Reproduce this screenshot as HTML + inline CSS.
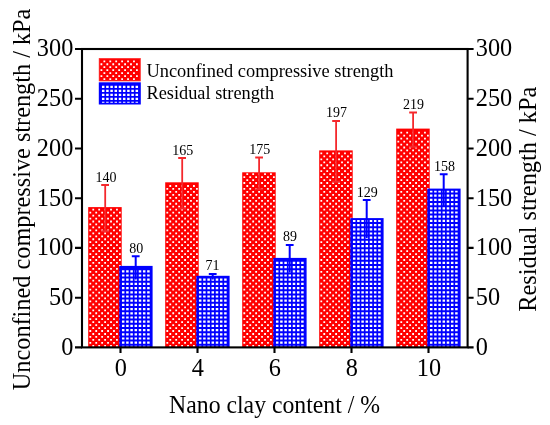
<!DOCTYPE html>
<html lang="en"><head><meta charset="utf-8"><title>Nano clay content chart</title>
<style>html,body{margin:0;padding:0;background:#fff}svg{display:block}text{font-family:"Liberation Serif",serif;fill:#000}</style></head><body>
<svg width="550" height="425" viewBox="0 0 550 425">
<rect width="550" height="425" fill="#fff"/>
<rect x="88.2" y="207.1" width="33.5" height="140.3" fill="#ff0000"/>
<path fill="#fff" d="M92.36 208.76h1.8v1.8h-1.8zM98.28 208.76h1.8v1.8h-1.8zM104.2 208.76h1.8v1.8h-1.8zM110.12 208.76h1.8v1.8h-1.8zM116.04 208.76h1.8v1.8h-1.8zM89.4 211.72h1.8v1.8h-1.8zM95.32 211.72h1.8v1.8h-1.8zM101.24 211.72h1.8v1.8h-1.8zM107.16 211.72h1.8v1.8h-1.8zM113.08 211.72h1.8v1.8h-1.8zM119 211.72h1.8v1.8h-1.8zM92.36 214.68h1.8v1.8h-1.8zM98.28 214.68h1.8v1.8h-1.8zM104.2 214.68h1.8v1.8h-1.8zM110.12 214.68h1.8v1.8h-1.8zM116.04 214.68h1.8v1.8h-1.8zM89.4 217.64h1.8v1.8h-1.8zM95.32 217.64h1.8v1.8h-1.8zM101.24 217.64h1.8v1.8h-1.8zM107.16 217.64h1.8v1.8h-1.8zM113.08 217.64h1.8v1.8h-1.8zM119 217.64h1.8v1.8h-1.8zM92.36 220.6h1.8v1.8h-1.8zM98.28 220.6h1.8v1.8h-1.8zM104.2 220.6h1.8v1.8h-1.8zM110.12 220.6h1.8v1.8h-1.8zM116.04 220.6h1.8v1.8h-1.8zM89.4 223.56h1.8v1.8h-1.8zM95.32 223.56h1.8v1.8h-1.8zM101.24 223.56h1.8v1.8h-1.8zM107.16 223.56h1.8v1.8h-1.8zM113.08 223.56h1.8v1.8h-1.8zM119 223.56h1.8v1.8h-1.8zM92.36 226.52h1.8v1.8h-1.8zM98.28 226.52h1.8v1.8h-1.8zM104.2 226.52h1.8v1.8h-1.8zM110.12 226.52h1.8v1.8h-1.8zM116.04 226.52h1.8v1.8h-1.8zM89.4 229.48h1.8v1.8h-1.8zM95.32 229.48h1.8v1.8h-1.8zM101.24 229.48h1.8v1.8h-1.8zM107.16 229.48h1.8v1.8h-1.8zM113.08 229.48h1.8v1.8h-1.8zM119 229.48h1.8v1.8h-1.8zM92.36 232.44h1.8v1.8h-1.8zM98.28 232.44h1.8v1.8h-1.8zM104.2 232.44h1.8v1.8h-1.8zM110.12 232.44h1.8v1.8h-1.8zM116.04 232.44h1.8v1.8h-1.8zM89.4 235.4h1.8v1.8h-1.8zM95.32 235.4h1.8v1.8h-1.8zM101.24 235.4h1.8v1.8h-1.8zM107.16 235.4h1.8v1.8h-1.8zM113.08 235.4h1.8v1.8h-1.8zM119 235.4h1.8v1.8h-1.8zM92.36 238.36h1.8v1.8h-1.8zM98.28 238.36h1.8v1.8h-1.8zM104.2 238.36h1.8v1.8h-1.8zM110.12 238.36h1.8v1.8h-1.8zM116.04 238.36h1.8v1.8h-1.8zM89.4 241.32h1.8v1.8h-1.8zM95.32 241.32h1.8v1.8h-1.8zM101.24 241.32h1.8v1.8h-1.8zM107.16 241.32h1.8v1.8h-1.8zM113.08 241.32h1.8v1.8h-1.8zM119 241.32h1.8v1.8h-1.8zM92.36 244.28h1.8v1.8h-1.8zM98.28 244.28h1.8v1.8h-1.8zM104.2 244.28h1.8v1.8h-1.8zM110.12 244.28h1.8v1.8h-1.8zM116.04 244.28h1.8v1.8h-1.8zM89.4 247.24h1.8v1.8h-1.8zM95.32 247.24h1.8v1.8h-1.8zM101.24 247.24h1.8v1.8h-1.8zM107.16 247.24h1.8v1.8h-1.8zM113.08 247.24h1.8v1.8h-1.8zM119 247.24h1.8v1.8h-1.8zM92.36 250.2h1.8v1.8h-1.8zM98.28 250.2h1.8v1.8h-1.8zM104.2 250.2h1.8v1.8h-1.8zM110.12 250.2h1.8v1.8h-1.8zM116.04 250.2h1.8v1.8h-1.8zM89.4 253.16h1.8v1.8h-1.8zM95.32 253.16h1.8v1.8h-1.8zM101.24 253.16h1.8v1.8h-1.8zM107.16 253.16h1.8v1.8h-1.8zM113.08 253.16h1.8v1.8h-1.8zM119 253.16h1.8v1.8h-1.8zM92.36 256.12h1.8v1.8h-1.8zM98.28 256.12h1.8v1.8h-1.8zM104.2 256.12h1.8v1.8h-1.8zM110.12 256.12h1.8v1.8h-1.8zM116.04 256.12h1.8v1.8h-1.8zM89.4 259.08h1.8v1.8h-1.8zM95.32 259.08h1.8v1.8h-1.8zM101.24 259.08h1.8v1.8h-1.8zM107.16 259.08h1.8v1.8h-1.8zM113.08 259.08h1.8v1.8h-1.8zM119 259.08h1.8v1.8h-1.8zM92.36 262.04h1.8v1.8h-1.8zM98.28 262.04h1.8v1.8h-1.8zM104.2 262.04h1.8v1.8h-1.8zM110.12 262.04h1.8v1.8h-1.8zM116.04 262.04h1.8v1.8h-1.8zM89.4 265h1.8v1.8h-1.8zM95.32 265h1.8v1.8h-1.8zM101.24 265h1.8v1.8h-1.8zM107.16 265h1.8v1.8h-1.8zM113.08 265h1.8v1.8h-1.8zM119 265h1.8v1.8h-1.8zM92.36 267.96h1.8v1.8h-1.8zM98.28 267.96h1.8v1.8h-1.8zM104.2 267.96h1.8v1.8h-1.8zM110.12 267.96h1.8v1.8h-1.8zM116.04 267.96h1.8v1.8h-1.8zM89.4 270.92h1.8v1.8h-1.8zM95.32 270.92h1.8v1.8h-1.8zM101.24 270.92h1.8v1.8h-1.8zM107.16 270.92h1.8v1.8h-1.8zM113.08 270.92h1.8v1.8h-1.8zM119 270.92h1.8v1.8h-1.8zM92.36 273.88h1.8v1.8h-1.8zM98.28 273.88h1.8v1.8h-1.8zM104.2 273.88h1.8v1.8h-1.8zM110.12 273.88h1.8v1.8h-1.8zM116.04 273.88h1.8v1.8h-1.8zM89.4 276.84h1.8v1.8h-1.8zM95.32 276.84h1.8v1.8h-1.8zM101.24 276.84h1.8v1.8h-1.8zM107.16 276.84h1.8v1.8h-1.8zM113.08 276.84h1.8v1.8h-1.8zM119 276.84h1.8v1.8h-1.8zM92.36 279.8h1.8v1.8h-1.8zM98.28 279.8h1.8v1.8h-1.8zM104.2 279.8h1.8v1.8h-1.8zM110.12 279.8h1.8v1.8h-1.8zM116.04 279.8h1.8v1.8h-1.8zM89.4 282.76h1.8v1.8h-1.8zM95.32 282.76h1.8v1.8h-1.8zM101.24 282.76h1.8v1.8h-1.8zM107.16 282.76h1.8v1.8h-1.8zM113.08 282.76h1.8v1.8h-1.8zM119 282.76h1.8v1.8h-1.8zM92.36 285.72h1.8v1.8h-1.8zM98.28 285.72h1.8v1.8h-1.8zM104.2 285.72h1.8v1.8h-1.8zM110.12 285.72h1.8v1.8h-1.8zM116.04 285.72h1.8v1.8h-1.8zM89.4 288.68h1.8v1.8h-1.8zM95.32 288.68h1.8v1.8h-1.8zM101.24 288.68h1.8v1.8h-1.8zM107.16 288.68h1.8v1.8h-1.8zM113.08 288.68h1.8v1.8h-1.8zM119 288.68h1.8v1.8h-1.8zM92.36 291.64h1.8v1.8h-1.8zM98.28 291.64h1.8v1.8h-1.8zM104.2 291.64h1.8v1.8h-1.8zM110.12 291.64h1.8v1.8h-1.8zM116.04 291.64h1.8v1.8h-1.8zM89.4 294.6h1.8v1.8h-1.8zM95.32 294.6h1.8v1.8h-1.8zM101.24 294.6h1.8v1.8h-1.8zM107.16 294.6h1.8v1.8h-1.8zM113.08 294.6h1.8v1.8h-1.8zM119 294.6h1.8v1.8h-1.8zM92.36 297.56h1.8v1.8h-1.8zM98.28 297.56h1.8v1.8h-1.8zM104.2 297.56h1.8v1.8h-1.8zM110.12 297.56h1.8v1.8h-1.8zM116.04 297.56h1.8v1.8h-1.8zM89.4 300.52h1.8v1.8h-1.8zM95.32 300.52h1.8v1.8h-1.8zM101.24 300.52h1.8v1.8h-1.8zM107.16 300.52h1.8v1.8h-1.8zM113.08 300.52h1.8v1.8h-1.8zM119 300.52h1.8v1.8h-1.8zM92.36 303.48h1.8v1.8h-1.8zM98.28 303.48h1.8v1.8h-1.8zM104.2 303.48h1.8v1.8h-1.8zM110.12 303.48h1.8v1.8h-1.8zM116.04 303.48h1.8v1.8h-1.8zM89.4 306.44h1.8v1.8h-1.8zM95.32 306.44h1.8v1.8h-1.8zM101.24 306.44h1.8v1.8h-1.8zM107.16 306.44h1.8v1.8h-1.8zM113.08 306.44h1.8v1.8h-1.8zM119 306.44h1.8v1.8h-1.8zM92.36 309.4h1.8v1.8h-1.8zM98.28 309.4h1.8v1.8h-1.8zM104.2 309.4h1.8v1.8h-1.8zM110.12 309.4h1.8v1.8h-1.8zM116.04 309.4h1.8v1.8h-1.8zM89.4 312.36h1.8v1.8h-1.8zM95.32 312.36h1.8v1.8h-1.8zM101.24 312.36h1.8v1.8h-1.8zM107.16 312.36h1.8v1.8h-1.8zM113.08 312.36h1.8v1.8h-1.8zM119 312.36h1.8v1.8h-1.8zM92.36 315.32h1.8v1.8h-1.8zM98.28 315.32h1.8v1.8h-1.8zM104.2 315.32h1.8v1.8h-1.8zM110.12 315.32h1.8v1.8h-1.8zM116.04 315.32h1.8v1.8h-1.8zM89.4 318.28h1.8v1.8h-1.8zM95.32 318.28h1.8v1.8h-1.8zM101.24 318.28h1.8v1.8h-1.8zM107.16 318.28h1.8v1.8h-1.8zM113.08 318.28h1.8v1.8h-1.8zM119 318.28h1.8v1.8h-1.8zM92.36 321.24h1.8v1.8h-1.8zM98.28 321.24h1.8v1.8h-1.8zM104.2 321.24h1.8v1.8h-1.8zM110.12 321.24h1.8v1.8h-1.8zM116.04 321.24h1.8v1.8h-1.8zM89.4 324.2h1.8v1.8h-1.8zM95.32 324.2h1.8v1.8h-1.8zM101.24 324.2h1.8v1.8h-1.8zM107.16 324.2h1.8v1.8h-1.8zM113.08 324.2h1.8v1.8h-1.8zM119 324.2h1.8v1.8h-1.8zM92.36 327.16h1.8v1.8h-1.8zM98.28 327.16h1.8v1.8h-1.8zM104.2 327.16h1.8v1.8h-1.8zM110.12 327.16h1.8v1.8h-1.8zM116.04 327.16h1.8v1.8h-1.8zM89.4 330.12h1.8v1.8h-1.8zM95.32 330.12h1.8v1.8h-1.8zM101.24 330.12h1.8v1.8h-1.8zM107.16 330.12h1.8v1.8h-1.8zM113.08 330.12h1.8v1.8h-1.8zM119 330.12h1.8v1.8h-1.8zM92.36 333.08h1.8v1.8h-1.8zM98.28 333.08h1.8v1.8h-1.8zM104.2 333.08h1.8v1.8h-1.8zM110.12 333.08h1.8v1.8h-1.8zM116.04 333.08h1.8v1.8h-1.8zM89.4 336.04h1.8v1.8h-1.8zM95.32 336.04h1.8v1.8h-1.8zM101.24 336.04h1.8v1.8h-1.8zM107.16 336.04h1.8v1.8h-1.8zM113.08 336.04h1.8v1.8h-1.8zM119 336.04h1.8v1.8h-1.8zM92.36 339h1.8v1.8h-1.8zM98.28 339h1.8v1.8h-1.8zM104.2 339h1.8v1.8h-1.8zM110.12 339h1.8v1.8h-1.8zM116.04 339h1.8v1.8h-1.8zM89.4 341.96h1.8v1.8h-1.8zM95.32 341.96h1.8v1.8h-1.8zM101.24 341.96h1.8v1.8h-1.8zM107.16 341.96h1.8v1.8h-1.8zM113.08 341.96h1.8v1.8h-1.8zM119 341.96h1.8v1.8h-1.8zM92.36 344.92h1.8v1.8h-1.8zM98.28 344.92h1.8v1.8h-1.8zM104.2 344.92h1.8v1.8h-1.8zM110.12 344.92h1.8v1.8h-1.8zM116.04 344.92h1.8v1.8h-1.8z"/>
<path d="M105.2 231.3V185.0" stroke="#f4282c" stroke-width="1.8" fill="none"/>
<path d="M101.2 185.0h7.8M101.2 231.3h7.8" stroke="#f4282c" stroke-width="2" fill="none"/>
<text x="106.0" y="182.3" font-size="15" text-anchor="middle" textLength="21" lengthAdjust="spacingAndGlyphs">140</text>
<rect x="165.2" y="182.3" width="33.5" height="165.1" fill="#ff0000"/>
<path fill="#fff" d="M169.36 185.08h1.8v1.8h-1.8zM175.28 185.08h1.8v1.8h-1.8zM181.2 185.08h1.8v1.8h-1.8zM187.12 185.08h1.8v1.8h-1.8zM193.04 185.08h1.8v1.8h-1.8zM166.4 188.04h1.8v1.8h-1.8zM172.32 188.04h1.8v1.8h-1.8zM178.24 188.04h1.8v1.8h-1.8zM184.16 188.04h1.8v1.8h-1.8zM190.08 188.04h1.8v1.8h-1.8zM196 188.04h1.8v1.8h-1.8zM169.36 191h1.8v1.8h-1.8zM175.28 191h1.8v1.8h-1.8zM181.2 191h1.8v1.8h-1.8zM187.12 191h1.8v1.8h-1.8zM193.04 191h1.8v1.8h-1.8zM166.4 193.96h1.8v1.8h-1.8zM172.32 193.96h1.8v1.8h-1.8zM178.24 193.96h1.8v1.8h-1.8zM184.16 193.96h1.8v1.8h-1.8zM190.08 193.96h1.8v1.8h-1.8zM196 193.96h1.8v1.8h-1.8zM169.36 196.92h1.8v1.8h-1.8zM175.28 196.92h1.8v1.8h-1.8zM181.2 196.92h1.8v1.8h-1.8zM187.12 196.92h1.8v1.8h-1.8zM193.04 196.92h1.8v1.8h-1.8zM166.4 199.88h1.8v1.8h-1.8zM172.32 199.88h1.8v1.8h-1.8zM178.24 199.88h1.8v1.8h-1.8zM184.16 199.88h1.8v1.8h-1.8zM190.08 199.88h1.8v1.8h-1.8zM196 199.88h1.8v1.8h-1.8zM169.36 202.84h1.8v1.8h-1.8zM175.28 202.84h1.8v1.8h-1.8zM181.2 202.84h1.8v1.8h-1.8zM187.12 202.84h1.8v1.8h-1.8zM193.04 202.84h1.8v1.8h-1.8zM166.4 205.8h1.8v1.8h-1.8zM172.32 205.8h1.8v1.8h-1.8zM178.24 205.8h1.8v1.8h-1.8zM184.16 205.8h1.8v1.8h-1.8zM190.08 205.8h1.8v1.8h-1.8zM196 205.8h1.8v1.8h-1.8zM169.36 208.76h1.8v1.8h-1.8zM175.28 208.76h1.8v1.8h-1.8zM181.2 208.76h1.8v1.8h-1.8zM187.12 208.76h1.8v1.8h-1.8zM193.04 208.76h1.8v1.8h-1.8zM166.4 211.72h1.8v1.8h-1.8zM172.32 211.72h1.8v1.8h-1.8zM178.24 211.72h1.8v1.8h-1.8zM184.16 211.72h1.8v1.8h-1.8zM190.08 211.72h1.8v1.8h-1.8zM196 211.72h1.8v1.8h-1.8zM169.36 214.68h1.8v1.8h-1.8zM175.28 214.68h1.8v1.8h-1.8zM181.2 214.68h1.8v1.8h-1.8zM187.12 214.68h1.8v1.8h-1.8zM193.04 214.68h1.8v1.8h-1.8zM166.4 217.64h1.8v1.8h-1.8zM172.32 217.64h1.8v1.8h-1.8zM178.24 217.64h1.8v1.8h-1.8zM184.16 217.64h1.8v1.8h-1.8zM190.08 217.64h1.8v1.8h-1.8zM196 217.64h1.8v1.8h-1.8zM169.36 220.6h1.8v1.8h-1.8zM175.28 220.6h1.8v1.8h-1.8zM181.2 220.6h1.8v1.8h-1.8zM187.12 220.6h1.8v1.8h-1.8zM193.04 220.6h1.8v1.8h-1.8zM166.4 223.56h1.8v1.8h-1.8zM172.32 223.56h1.8v1.8h-1.8zM178.24 223.56h1.8v1.8h-1.8zM184.16 223.56h1.8v1.8h-1.8zM190.08 223.56h1.8v1.8h-1.8zM196 223.56h1.8v1.8h-1.8zM169.36 226.52h1.8v1.8h-1.8zM175.28 226.52h1.8v1.8h-1.8zM181.2 226.52h1.8v1.8h-1.8zM187.12 226.52h1.8v1.8h-1.8zM193.04 226.52h1.8v1.8h-1.8zM166.4 229.48h1.8v1.8h-1.8zM172.32 229.48h1.8v1.8h-1.8zM178.24 229.48h1.8v1.8h-1.8zM184.16 229.48h1.8v1.8h-1.8zM190.08 229.48h1.8v1.8h-1.8zM196 229.48h1.8v1.8h-1.8zM169.36 232.44h1.8v1.8h-1.8zM175.28 232.44h1.8v1.8h-1.8zM181.2 232.44h1.8v1.8h-1.8zM187.12 232.44h1.8v1.8h-1.8zM193.04 232.44h1.8v1.8h-1.8zM166.4 235.4h1.8v1.8h-1.8zM172.32 235.4h1.8v1.8h-1.8zM178.24 235.4h1.8v1.8h-1.8zM184.16 235.4h1.8v1.8h-1.8zM190.08 235.4h1.8v1.8h-1.8zM196 235.4h1.8v1.8h-1.8zM169.36 238.36h1.8v1.8h-1.8zM175.28 238.36h1.8v1.8h-1.8zM181.2 238.36h1.8v1.8h-1.8zM187.12 238.36h1.8v1.8h-1.8zM193.04 238.36h1.8v1.8h-1.8zM166.4 241.32h1.8v1.8h-1.8zM172.32 241.32h1.8v1.8h-1.8zM178.24 241.32h1.8v1.8h-1.8zM184.16 241.32h1.8v1.8h-1.8zM190.08 241.32h1.8v1.8h-1.8zM196 241.32h1.8v1.8h-1.8zM169.36 244.28h1.8v1.8h-1.8zM175.28 244.28h1.8v1.8h-1.8zM181.2 244.28h1.8v1.8h-1.8zM187.12 244.28h1.8v1.8h-1.8zM193.04 244.28h1.8v1.8h-1.8zM166.4 247.24h1.8v1.8h-1.8zM172.32 247.24h1.8v1.8h-1.8zM178.24 247.24h1.8v1.8h-1.8zM184.16 247.24h1.8v1.8h-1.8zM190.08 247.24h1.8v1.8h-1.8zM196 247.24h1.8v1.8h-1.8zM169.36 250.2h1.8v1.8h-1.8zM175.28 250.2h1.8v1.8h-1.8zM181.2 250.2h1.8v1.8h-1.8zM187.12 250.2h1.8v1.8h-1.8zM193.04 250.2h1.8v1.8h-1.8zM166.4 253.16h1.8v1.8h-1.8zM172.32 253.16h1.8v1.8h-1.8zM178.24 253.16h1.8v1.8h-1.8zM184.16 253.16h1.8v1.8h-1.8zM190.08 253.16h1.8v1.8h-1.8zM196 253.16h1.8v1.8h-1.8zM169.36 256.12h1.8v1.8h-1.8zM175.28 256.12h1.8v1.8h-1.8zM181.2 256.12h1.8v1.8h-1.8zM187.12 256.12h1.8v1.8h-1.8zM193.04 256.12h1.8v1.8h-1.8zM166.4 259.08h1.8v1.8h-1.8zM172.32 259.08h1.8v1.8h-1.8zM178.24 259.08h1.8v1.8h-1.8zM184.16 259.08h1.8v1.8h-1.8zM190.08 259.08h1.8v1.8h-1.8zM196 259.08h1.8v1.8h-1.8zM169.36 262.04h1.8v1.8h-1.8zM175.28 262.04h1.8v1.8h-1.8zM181.2 262.04h1.8v1.8h-1.8zM187.12 262.04h1.8v1.8h-1.8zM193.04 262.04h1.8v1.8h-1.8zM166.4 265h1.8v1.8h-1.8zM172.32 265h1.8v1.8h-1.8zM178.24 265h1.8v1.8h-1.8zM184.16 265h1.8v1.8h-1.8zM190.08 265h1.8v1.8h-1.8zM196 265h1.8v1.8h-1.8zM169.36 267.96h1.8v1.8h-1.8zM175.28 267.96h1.8v1.8h-1.8zM181.2 267.96h1.8v1.8h-1.8zM187.12 267.96h1.8v1.8h-1.8zM193.04 267.96h1.8v1.8h-1.8zM166.4 270.92h1.8v1.8h-1.8zM172.32 270.92h1.8v1.8h-1.8zM178.24 270.92h1.8v1.8h-1.8zM184.16 270.92h1.8v1.8h-1.8zM190.08 270.92h1.8v1.8h-1.8zM196 270.92h1.8v1.8h-1.8zM169.36 273.88h1.8v1.8h-1.8zM175.28 273.88h1.8v1.8h-1.8zM181.2 273.88h1.8v1.8h-1.8zM187.12 273.88h1.8v1.8h-1.8zM193.04 273.88h1.8v1.8h-1.8zM166.4 276.84h1.8v1.8h-1.8zM172.32 276.84h1.8v1.8h-1.8zM178.24 276.84h1.8v1.8h-1.8zM184.16 276.84h1.8v1.8h-1.8zM190.08 276.84h1.8v1.8h-1.8zM196 276.84h1.8v1.8h-1.8zM169.36 279.8h1.8v1.8h-1.8zM175.28 279.8h1.8v1.8h-1.8zM181.2 279.8h1.8v1.8h-1.8zM187.12 279.8h1.8v1.8h-1.8zM193.04 279.8h1.8v1.8h-1.8zM166.4 282.76h1.8v1.8h-1.8zM172.32 282.76h1.8v1.8h-1.8zM178.24 282.76h1.8v1.8h-1.8zM184.16 282.76h1.8v1.8h-1.8zM190.08 282.76h1.8v1.8h-1.8zM196 282.76h1.8v1.8h-1.8zM169.36 285.72h1.8v1.8h-1.8zM175.28 285.72h1.8v1.8h-1.8zM181.2 285.72h1.8v1.8h-1.8zM187.12 285.72h1.8v1.8h-1.8zM193.04 285.72h1.8v1.8h-1.8zM166.4 288.68h1.8v1.8h-1.8zM172.32 288.68h1.8v1.8h-1.8zM178.24 288.68h1.8v1.8h-1.8zM184.16 288.68h1.8v1.8h-1.8zM190.08 288.68h1.8v1.8h-1.8zM196 288.68h1.8v1.8h-1.8zM169.36 291.64h1.8v1.8h-1.8zM175.28 291.64h1.8v1.8h-1.8zM181.2 291.64h1.8v1.8h-1.8zM187.12 291.64h1.8v1.8h-1.8zM193.04 291.64h1.8v1.8h-1.8zM166.4 294.6h1.8v1.8h-1.8zM172.32 294.6h1.8v1.8h-1.8zM178.24 294.6h1.8v1.8h-1.8zM184.16 294.6h1.8v1.8h-1.8zM190.08 294.6h1.8v1.8h-1.8zM196 294.6h1.8v1.8h-1.8zM169.36 297.56h1.8v1.8h-1.8zM175.28 297.56h1.8v1.8h-1.8zM181.2 297.56h1.8v1.8h-1.8zM187.12 297.56h1.8v1.8h-1.8zM193.04 297.56h1.8v1.8h-1.8zM166.4 300.52h1.8v1.8h-1.8zM172.32 300.52h1.8v1.8h-1.8zM178.24 300.52h1.8v1.8h-1.8zM184.16 300.52h1.8v1.8h-1.8zM190.08 300.52h1.8v1.8h-1.8zM196 300.52h1.8v1.8h-1.8zM169.36 303.48h1.8v1.8h-1.8zM175.28 303.48h1.8v1.8h-1.8zM181.2 303.48h1.8v1.8h-1.8zM187.12 303.48h1.8v1.8h-1.8zM193.04 303.48h1.8v1.8h-1.8zM166.4 306.44h1.8v1.8h-1.8zM172.32 306.44h1.8v1.8h-1.8zM178.24 306.44h1.8v1.8h-1.8zM184.16 306.44h1.8v1.8h-1.8zM190.08 306.44h1.8v1.8h-1.8zM196 306.44h1.8v1.8h-1.8zM169.36 309.4h1.8v1.8h-1.8zM175.28 309.4h1.8v1.8h-1.8zM181.2 309.4h1.8v1.8h-1.8zM187.12 309.4h1.8v1.8h-1.8zM193.04 309.4h1.8v1.8h-1.8zM166.4 312.36h1.8v1.8h-1.8zM172.32 312.36h1.8v1.8h-1.8zM178.24 312.36h1.8v1.8h-1.8zM184.16 312.36h1.8v1.8h-1.8zM190.08 312.36h1.8v1.8h-1.8zM196 312.36h1.8v1.8h-1.8zM169.36 315.32h1.8v1.8h-1.8zM175.28 315.32h1.8v1.8h-1.8zM181.2 315.32h1.8v1.8h-1.8zM187.12 315.32h1.8v1.8h-1.8zM193.04 315.32h1.8v1.8h-1.8zM166.4 318.28h1.8v1.8h-1.8zM172.32 318.28h1.8v1.8h-1.8zM178.24 318.28h1.8v1.8h-1.8zM184.16 318.28h1.8v1.8h-1.8zM190.08 318.28h1.8v1.8h-1.8zM196 318.28h1.8v1.8h-1.8zM169.36 321.24h1.8v1.8h-1.8zM175.28 321.24h1.8v1.8h-1.8zM181.2 321.24h1.8v1.8h-1.8zM187.12 321.24h1.8v1.8h-1.8zM193.04 321.24h1.8v1.8h-1.8zM166.4 324.2h1.8v1.8h-1.8zM172.32 324.2h1.8v1.8h-1.8zM178.24 324.2h1.8v1.8h-1.8zM184.16 324.2h1.8v1.8h-1.8zM190.08 324.2h1.8v1.8h-1.8zM196 324.2h1.8v1.8h-1.8zM169.36 327.16h1.8v1.8h-1.8zM175.28 327.16h1.8v1.8h-1.8zM181.2 327.16h1.8v1.8h-1.8zM187.12 327.16h1.8v1.8h-1.8zM193.04 327.16h1.8v1.8h-1.8zM166.4 330.12h1.8v1.8h-1.8zM172.32 330.12h1.8v1.8h-1.8zM178.24 330.12h1.8v1.8h-1.8zM184.16 330.12h1.8v1.8h-1.8zM190.08 330.12h1.8v1.8h-1.8zM196 330.12h1.8v1.8h-1.8zM169.36 333.08h1.8v1.8h-1.8zM175.28 333.08h1.8v1.8h-1.8zM181.2 333.08h1.8v1.8h-1.8zM187.12 333.08h1.8v1.8h-1.8zM193.04 333.08h1.8v1.8h-1.8zM166.4 336.04h1.8v1.8h-1.8zM172.32 336.04h1.8v1.8h-1.8zM178.24 336.04h1.8v1.8h-1.8zM184.16 336.04h1.8v1.8h-1.8zM190.08 336.04h1.8v1.8h-1.8zM196 336.04h1.8v1.8h-1.8zM169.36 339h1.8v1.8h-1.8zM175.28 339h1.8v1.8h-1.8zM181.2 339h1.8v1.8h-1.8zM187.12 339h1.8v1.8h-1.8zM193.04 339h1.8v1.8h-1.8zM166.4 341.96h1.8v1.8h-1.8zM172.32 341.96h1.8v1.8h-1.8zM178.24 341.96h1.8v1.8h-1.8zM184.16 341.96h1.8v1.8h-1.8zM190.08 341.96h1.8v1.8h-1.8zM196 341.96h1.8v1.8h-1.8zM169.36 344.92h1.8v1.8h-1.8zM175.28 344.92h1.8v1.8h-1.8zM181.2 344.92h1.8v1.8h-1.8zM187.12 344.92h1.8v1.8h-1.8zM193.04 344.92h1.8v1.8h-1.8z"/>
<path d="M182.2 208.4V158.1" stroke="#f4282c" stroke-width="1.8" fill="none"/>
<path d="M178.2 158.1h7.8M178.2 208.4h7.8" stroke="#f4282c" stroke-width="2" fill="none"/>
<text x="182.7" y="155.2" font-size="15" text-anchor="middle" textLength="21" lengthAdjust="spacingAndGlyphs">165</text>
<rect x="242.2" y="172.3" width="33.5" height="175.1" fill="#ff0000"/>
<path fill="#fff" d="M246.36 173.24h1.8v1.8h-1.8zM252.28 173.24h1.8v1.8h-1.8zM258.2 173.24h1.8v1.8h-1.8zM264.12 173.24h1.8v1.8h-1.8zM270.04 173.24h1.8v1.8h-1.8zM243.4 176.2h1.8v1.8h-1.8zM249.32 176.2h1.8v1.8h-1.8zM255.24 176.2h1.8v1.8h-1.8zM261.16 176.2h1.8v1.8h-1.8zM267.08 176.2h1.8v1.8h-1.8zM273 176.2h1.8v1.8h-1.8zM246.36 179.16h1.8v1.8h-1.8zM252.28 179.16h1.8v1.8h-1.8zM258.2 179.16h1.8v1.8h-1.8zM264.12 179.16h1.8v1.8h-1.8zM270.04 179.16h1.8v1.8h-1.8zM243.4 182.12h1.8v1.8h-1.8zM249.32 182.12h1.8v1.8h-1.8zM255.24 182.12h1.8v1.8h-1.8zM261.16 182.12h1.8v1.8h-1.8zM267.08 182.12h1.8v1.8h-1.8zM273 182.12h1.8v1.8h-1.8zM246.36 185.08h1.8v1.8h-1.8zM252.28 185.08h1.8v1.8h-1.8zM258.2 185.08h1.8v1.8h-1.8zM264.12 185.08h1.8v1.8h-1.8zM270.04 185.08h1.8v1.8h-1.8zM243.4 188.04h1.8v1.8h-1.8zM249.32 188.04h1.8v1.8h-1.8zM255.24 188.04h1.8v1.8h-1.8zM261.16 188.04h1.8v1.8h-1.8zM267.08 188.04h1.8v1.8h-1.8zM273 188.04h1.8v1.8h-1.8zM246.36 191h1.8v1.8h-1.8zM252.28 191h1.8v1.8h-1.8zM258.2 191h1.8v1.8h-1.8zM264.12 191h1.8v1.8h-1.8zM270.04 191h1.8v1.8h-1.8zM243.4 193.96h1.8v1.8h-1.8zM249.32 193.96h1.8v1.8h-1.8zM255.24 193.96h1.8v1.8h-1.8zM261.16 193.96h1.8v1.8h-1.8zM267.08 193.96h1.8v1.8h-1.8zM273 193.96h1.8v1.8h-1.8zM246.36 196.92h1.8v1.8h-1.8zM252.28 196.92h1.8v1.8h-1.8zM258.2 196.92h1.8v1.8h-1.8zM264.12 196.92h1.8v1.8h-1.8zM270.04 196.92h1.8v1.8h-1.8zM243.4 199.88h1.8v1.8h-1.8zM249.32 199.88h1.8v1.8h-1.8zM255.24 199.88h1.8v1.8h-1.8zM261.16 199.88h1.8v1.8h-1.8zM267.08 199.88h1.8v1.8h-1.8zM273 199.88h1.8v1.8h-1.8zM246.36 202.84h1.8v1.8h-1.8zM252.28 202.84h1.8v1.8h-1.8zM258.2 202.84h1.8v1.8h-1.8zM264.12 202.84h1.8v1.8h-1.8zM270.04 202.84h1.8v1.8h-1.8zM243.4 205.8h1.8v1.8h-1.8zM249.32 205.8h1.8v1.8h-1.8zM255.24 205.8h1.8v1.8h-1.8zM261.16 205.8h1.8v1.8h-1.8zM267.08 205.8h1.8v1.8h-1.8zM273 205.8h1.8v1.8h-1.8zM246.36 208.76h1.8v1.8h-1.8zM252.28 208.76h1.8v1.8h-1.8zM258.2 208.76h1.8v1.8h-1.8zM264.12 208.76h1.8v1.8h-1.8zM270.04 208.76h1.8v1.8h-1.8zM243.4 211.72h1.8v1.8h-1.8zM249.32 211.72h1.8v1.8h-1.8zM255.24 211.72h1.8v1.8h-1.8zM261.16 211.72h1.8v1.8h-1.8zM267.08 211.72h1.8v1.8h-1.8zM273 211.72h1.8v1.8h-1.8zM246.36 214.68h1.8v1.8h-1.8zM252.28 214.68h1.8v1.8h-1.8zM258.2 214.68h1.8v1.8h-1.8zM264.12 214.68h1.8v1.8h-1.8zM270.04 214.68h1.8v1.8h-1.8zM243.4 217.64h1.8v1.8h-1.8zM249.32 217.64h1.8v1.8h-1.8zM255.24 217.64h1.8v1.8h-1.8zM261.16 217.64h1.8v1.8h-1.8zM267.08 217.64h1.8v1.8h-1.8zM273 217.64h1.8v1.8h-1.8zM246.36 220.6h1.8v1.8h-1.8zM252.28 220.6h1.8v1.8h-1.8zM258.2 220.6h1.8v1.8h-1.8zM264.12 220.6h1.8v1.8h-1.8zM270.04 220.6h1.8v1.8h-1.8zM243.4 223.56h1.8v1.8h-1.8zM249.32 223.56h1.8v1.8h-1.8zM255.24 223.56h1.8v1.8h-1.8zM261.16 223.56h1.8v1.8h-1.8zM267.08 223.56h1.8v1.8h-1.8zM273 223.56h1.8v1.8h-1.8zM246.36 226.52h1.8v1.8h-1.8zM252.28 226.52h1.8v1.8h-1.8zM258.2 226.52h1.8v1.8h-1.8zM264.12 226.52h1.8v1.8h-1.8zM270.04 226.52h1.8v1.8h-1.8zM243.4 229.48h1.8v1.8h-1.8zM249.32 229.48h1.8v1.8h-1.8zM255.24 229.48h1.8v1.8h-1.8zM261.16 229.48h1.8v1.8h-1.8zM267.08 229.48h1.8v1.8h-1.8zM273 229.48h1.8v1.8h-1.8zM246.36 232.44h1.8v1.8h-1.8zM252.28 232.44h1.8v1.8h-1.8zM258.2 232.44h1.8v1.8h-1.8zM264.12 232.44h1.8v1.8h-1.8zM270.04 232.44h1.8v1.8h-1.8zM243.4 235.4h1.8v1.8h-1.8zM249.32 235.4h1.8v1.8h-1.8zM255.24 235.4h1.8v1.8h-1.8zM261.16 235.4h1.8v1.8h-1.8zM267.08 235.4h1.8v1.8h-1.8zM273 235.4h1.8v1.8h-1.8zM246.36 238.36h1.8v1.8h-1.8zM252.28 238.36h1.8v1.8h-1.8zM258.2 238.36h1.8v1.8h-1.8zM264.12 238.36h1.8v1.8h-1.8zM270.04 238.36h1.8v1.8h-1.8zM243.4 241.32h1.8v1.8h-1.8zM249.32 241.32h1.8v1.8h-1.8zM255.24 241.32h1.8v1.8h-1.8zM261.16 241.32h1.8v1.8h-1.8zM267.08 241.32h1.8v1.8h-1.8zM273 241.32h1.8v1.8h-1.8zM246.36 244.28h1.8v1.8h-1.8zM252.28 244.28h1.8v1.8h-1.8zM258.2 244.28h1.8v1.8h-1.8zM264.12 244.28h1.8v1.8h-1.8zM270.04 244.28h1.8v1.8h-1.8zM243.4 247.24h1.8v1.8h-1.8zM249.32 247.24h1.8v1.8h-1.8zM255.24 247.24h1.8v1.8h-1.8zM261.16 247.24h1.8v1.8h-1.8zM267.08 247.24h1.8v1.8h-1.8zM273 247.24h1.8v1.8h-1.8zM246.36 250.2h1.8v1.8h-1.8zM252.28 250.2h1.8v1.8h-1.8zM258.2 250.2h1.8v1.8h-1.8zM264.12 250.2h1.8v1.8h-1.8zM270.04 250.2h1.8v1.8h-1.8zM243.4 253.16h1.8v1.8h-1.8zM249.32 253.16h1.8v1.8h-1.8zM255.24 253.16h1.8v1.8h-1.8zM261.16 253.16h1.8v1.8h-1.8zM267.08 253.16h1.8v1.8h-1.8zM273 253.16h1.8v1.8h-1.8zM246.36 256.12h1.8v1.8h-1.8zM252.28 256.12h1.8v1.8h-1.8zM258.2 256.12h1.8v1.8h-1.8zM264.12 256.12h1.8v1.8h-1.8zM270.04 256.12h1.8v1.8h-1.8zM243.4 259.08h1.8v1.8h-1.8zM249.32 259.08h1.8v1.8h-1.8zM255.24 259.08h1.8v1.8h-1.8zM261.16 259.08h1.8v1.8h-1.8zM267.08 259.08h1.8v1.8h-1.8zM273 259.08h1.8v1.8h-1.8zM246.36 262.04h1.8v1.8h-1.8zM252.28 262.04h1.8v1.8h-1.8zM258.2 262.04h1.8v1.8h-1.8zM264.12 262.04h1.8v1.8h-1.8zM270.04 262.04h1.8v1.8h-1.8zM243.4 265h1.8v1.8h-1.8zM249.32 265h1.8v1.8h-1.8zM255.24 265h1.8v1.8h-1.8zM261.16 265h1.8v1.8h-1.8zM267.08 265h1.8v1.8h-1.8zM273 265h1.8v1.8h-1.8zM246.36 267.96h1.8v1.8h-1.8zM252.28 267.96h1.8v1.8h-1.8zM258.2 267.96h1.8v1.8h-1.8zM264.12 267.96h1.8v1.8h-1.8zM270.04 267.96h1.8v1.8h-1.8zM243.4 270.92h1.8v1.8h-1.8zM249.32 270.92h1.8v1.8h-1.8zM255.24 270.92h1.8v1.8h-1.8zM261.16 270.92h1.8v1.8h-1.8zM267.08 270.92h1.8v1.8h-1.8zM273 270.92h1.8v1.8h-1.8zM246.36 273.88h1.8v1.8h-1.8zM252.28 273.88h1.8v1.8h-1.8zM258.2 273.88h1.8v1.8h-1.8zM264.12 273.88h1.8v1.8h-1.8zM270.04 273.88h1.8v1.8h-1.8zM243.4 276.84h1.8v1.8h-1.8zM249.32 276.84h1.8v1.8h-1.8zM255.24 276.84h1.8v1.8h-1.8zM261.16 276.84h1.8v1.8h-1.8zM267.08 276.84h1.8v1.8h-1.8zM273 276.84h1.8v1.8h-1.8zM246.36 279.8h1.8v1.8h-1.8zM252.28 279.8h1.8v1.8h-1.8zM258.2 279.8h1.8v1.8h-1.8zM264.12 279.8h1.8v1.8h-1.8zM270.04 279.8h1.8v1.8h-1.8zM243.4 282.76h1.8v1.8h-1.8zM249.32 282.76h1.8v1.8h-1.8zM255.24 282.76h1.8v1.8h-1.8zM261.16 282.76h1.8v1.8h-1.8zM267.08 282.76h1.8v1.8h-1.8zM273 282.76h1.8v1.8h-1.8zM246.36 285.72h1.8v1.8h-1.8zM252.28 285.72h1.8v1.8h-1.8zM258.2 285.72h1.8v1.8h-1.8zM264.12 285.72h1.8v1.8h-1.8zM270.04 285.72h1.8v1.8h-1.8zM243.4 288.68h1.8v1.8h-1.8zM249.32 288.68h1.8v1.8h-1.8zM255.24 288.68h1.8v1.8h-1.8zM261.16 288.68h1.8v1.8h-1.8zM267.08 288.68h1.8v1.8h-1.8zM273 288.68h1.8v1.8h-1.8zM246.36 291.64h1.8v1.8h-1.8zM252.28 291.64h1.8v1.8h-1.8zM258.2 291.64h1.8v1.8h-1.8zM264.12 291.64h1.8v1.8h-1.8zM270.04 291.64h1.8v1.8h-1.8zM243.4 294.6h1.8v1.8h-1.8zM249.32 294.6h1.8v1.8h-1.8zM255.24 294.6h1.8v1.8h-1.8zM261.16 294.6h1.8v1.8h-1.8zM267.08 294.6h1.8v1.8h-1.8zM273 294.6h1.8v1.8h-1.8zM246.36 297.56h1.8v1.8h-1.8zM252.28 297.56h1.8v1.8h-1.8zM258.2 297.56h1.8v1.8h-1.8zM264.12 297.56h1.8v1.8h-1.8zM270.04 297.56h1.8v1.8h-1.8zM243.4 300.52h1.8v1.8h-1.8zM249.32 300.52h1.8v1.8h-1.8zM255.24 300.52h1.8v1.8h-1.8zM261.16 300.52h1.8v1.8h-1.8zM267.08 300.52h1.8v1.8h-1.8zM273 300.52h1.8v1.8h-1.8zM246.36 303.48h1.8v1.8h-1.8zM252.28 303.48h1.8v1.8h-1.8zM258.2 303.48h1.8v1.8h-1.8zM264.12 303.48h1.8v1.8h-1.8zM270.04 303.48h1.8v1.8h-1.8zM243.4 306.44h1.8v1.8h-1.8zM249.32 306.44h1.8v1.8h-1.8zM255.24 306.44h1.8v1.8h-1.8zM261.16 306.44h1.8v1.8h-1.8zM267.08 306.44h1.8v1.8h-1.8zM273 306.44h1.8v1.8h-1.8zM246.36 309.4h1.8v1.8h-1.8zM252.28 309.4h1.8v1.8h-1.8zM258.2 309.4h1.8v1.8h-1.8zM264.12 309.4h1.8v1.8h-1.8zM270.04 309.4h1.8v1.8h-1.8zM243.4 312.36h1.8v1.8h-1.8zM249.32 312.36h1.8v1.8h-1.8zM255.24 312.36h1.8v1.8h-1.8zM261.16 312.36h1.8v1.8h-1.8zM267.08 312.36h1.8v1.8h-1.8zM273 312.36h1.8v1.8h-1.8zM246.36 315.32h1.8v1.8h-1.8zM252.28 315.32h1.8v1.8h-1.8zM258.2 315.32h1.8v1.8h-1.8zM264.12 315.32h1.8v1.8h-1.8zM270.04 315.32h1.8v1.8h-1.8zM243.4 318.28h1.8v1.8h-1.8zM249.32 318.28h1.8v1.8h-1.8zM255.24 318.28h1.8v1.8h-1.8zM261.16 318.28h1.8v1.8h-1.8zM267.08 318.28h1.8v1.8h-1.8zM273 318.28h1.8v1.8h-1.8zM246.36 321.24h1.8v1.8h-1.8zM252.28 321.24h1.8v1.8h-1.8zM258.2 321.24h1.8v1.8h-1.8zM264.12 321.24h1.8v1.8h-1.8zM270.04 321.24h1.8v1.8h-1.8zM243.4 324.2h1.8v1.8h-1.8zM249.32 324.2h1.8v1.8h-1.8zM255.24 324.2h1.8v1.8h-1.8zM261.16 324.2h1.8v1.8h-1.8zM267.08 324.2h1.8v1.8h-1.8zM273 324.2h1.8v1.8h-1.8zM246.36 327.16h1.8v1.8h-1.8zM252.28 327.16h1.8v1.8h-1.8zM258.2 327.16h1.8v1.8h-1.8zM264.12 327.16h1.8v1.8h-1.8zM270.04 327.16h1.8v1.8h-1.8zM243.4 330.12h1.8v1.8h-1.8zM249.32 330.12h1.8v1.8h-1.8zM255.24 330.12h1.8v1.8h-1.8zM261.16 330.12h1.8v1.8h-1.8zM267.08 330.12h1.8v1.8h-1.8zM273 330.12h1.8v1.8h-1.8zM246.36 333.08h1.8v1.8h-1.8zM252.28 333.08h1.8v1.8h-1.8zM258.2 333.08h1.8v1.8h-1.8zM264.12 333.08h1.8v1.8h-1.8zM270.04 333.08h1.8v1.8h-1.8zM243.4 336.04h1.8v1.8h-1.8zM249.32 336.04h1.8v1.8h-1.8zM255.24 336.04h1.8v1.8h-1.8zM261.16 336.04h1.8v1.8h-1.8zM267.08 336.04h1.8v1.8h-1.8zM273 336.04h1.8v1.8h-1.8zM246.36 339h1.8v1.8h-1.8zM252.28 339h1.8v1.8h-1.8zM258.2 339h1.8v1.8h-1.8zM264.12 339h1.8v1.8h-1.8zM270.04 339h1.8v1.8h-1.8zM243.4 341.96h1.8v1.8h-1.8zM249.32 341.96h1.8v1.8h-1.8zM255.24 341.96h1.8v1.8h-1.8zM261.16 341.96h1.8v1.8h-1.8zM267.08 341.96h1.8v1.8h-1.8zM273 341.96h1.8v1.8h-1.8zM246.36 344.92h1.8v1.8h-1.8zM252.28 344.92h1.8v1.8h-1.8zM258.2 344.92h1.8v1.8h-1.8zM264.12 344.92h1.8v1.8h-1.8zM270.04 344.92h1.8v1.8h-1.8z"/>
<path d="M259.1 189.2V157.4" stroke="#f4282c" stroke-width="1.8" fill="none"/>
<path d="M255.2 157.4h7.8M255.2 189.2h7.8" stroke="#f4282c" stroke-width="2" fill="none"/>
<text x="259.8" y="154.3" font-size="15" text-anchor="middle" textLength="21" lengthAdjust="spacingAndGlyphs">175</text>
<rect x="319.2" y="150.4" width="33.5" height="197.0" fill="#ff0000"/>
<path fill="#fff" d="M320.4 152.52h1.8v1.8h-1.8zM326.32 152.52h1.8v1.8h-1.8zM332.24 152.52h1.8v1.8h-1.8zM338.16 152.52h1.8v1.8h-1.8zM344.08 152.52h1.8v1.8h-1.8zM350 152.52h1.8v1.8h-1.8zM323.36 155.48h1.8v1.8h-1.8zM329.28 155.48h1.8v1.8h-1.8zM335.2 155.48h1.8v1.8h-1.8zM341.12 155.48h1.8v1.8h-1.8zM347.04 155.48h1.8v1.8h-1.8zM320.4 158.44h1.8v1.8h-1.8zM326.32 158.44h1.8v1.8h-1.8zM332.24 158.44h1.8v1.8h-1.8zM338.16 158.44h1.8v1.8h-1.8zM344.08 158.44h1.8v1.8h-1.8zM350 158.44h1.8v1.8h-1.8zM323.36 161.4h1.8v1.8h-1.8zM329.28 161.4h1.8v1.8h-1.8zM335.2 161.4h1.8v1.8h-1.8zM341.12 161.4h1.8v1.8h-1.8zM347.04 161.4h1.8v1.8h-1.8zM320.4 164.36h1.8v1.8h-1.8zM326.32 164.36h1.8v1.8h-1.8zM332.24 164.36h1.8v1.8h-1.8zM338.16 164.36h1.8v1.8h-1.8zM344.08 164.36h1.8v1.8h-1.8zM350 164.36h1.8v1.8h-1.8zM323.36 167.32h1.8v1.8h-1.8zM329.28 167.32h1.8v1.8h-1.8zM335.2 167.32h1.8v1.8h-1.8zM341.12 167.32h1.8v1.8h-1.8zM347.04 167.32h1.8v1.8h-1.8zM320.4 170.28h1.8v1.8h-1.8zM326.32 170.28h1.8v1.8h-1.8zM332.24 170.28h1.8v1.8h-1.8zM338.16 170.28h1.8v1.8h-1.8zM344.08 170.28h1.8v1.8h-1.8zM350 170.28h1.8v1.8h-1.8zM323.36 173.24h1.8v1.8h-1.8zM329.28 173.24h1.8v1.8h-1.8zM335.2 173.24h1.8v1.8h-1.8zM341.12 173.24h1.8v1.8h-1.8zM347.04 173.24h1.8v1.8h-1.8zM320.4 176.2h1.8v1.8h-1.8zM326.32 176.2h1.8v1.8h-1.8zM332.24 176.2h1.8v1.8h-1.8zM338.16 176.2h1.8v1.8h-1.8zM344.08 176.2h1.8v1.8h-1.8zM350 176.2h1.8v1.8h-1.8zM323.36 179.16h1.8v1.8h-1.8zM329.28 179.16h1.8v1.8h-1.8zM335.2 179.16h1.8v1.8h-1.8zM341.12 179.16h1.8v1.8h-1.8zM347.04 179.16h1.8v1.8h-1.8zM320.4 182.12h1.8v1.8h-1.8zM326.32 182.12h1.8v1.8h-1.8zM332.24 182.12h1.8v1.8h-1.8zM338.16 182.12h1.8v1.8h-1.8zM344.08 182.12h1.8v1.8h-1.8zM350 182.12h1.8v1.8h-1.8zM323.36 185.08h1.8v1.8h-1.8zM329.28 185.08h1.8v1.8h-1.8zM335.2 185.08h1.8v1.8h-1.8zM341.12 185.08h1.8v1.8h-1.8zM347.04 185.08h1.8v1.8h-1.8zM320.4 188.04h1.8v1.8h-1.8zM326.32 188.04h1.8v1.8h-1.8zM332.24 188.04h1.8v1.8h-1.8zM338.16 188.04h1.8v1.8h-1.8zM344.08 188.04h1.8v1.8h-1.8zM350 188.04h1.8v1.8h-1.8zM323.36 191h1.8v1.8h-1.8zM329.28 191h1.8v1.8h-1.8zM335.2 191h1.8v1.8h-1.8zM341.12 191h1.8v1.8h-1.8zM347.04 191h1.8v1.8h-1.8zM320.4 193.96h1.8v1.8h-1.8zM326.32 193.96h1.8v1.8h-1.8zM332.24 193.96h1.8v1.8h-1.8zM338.16 193.96h1.8v1.8h-1.8zM344.08 193.96h1.8v1.8h-1.8zM350 193.96h1.8v1.8h-1.8zM323.36 196.92h1.8v1.8h-1.8zM329.28 196.92h1.8v1.8h-1.8zM335.2 196.92h1.8v1.8h-1.8zM341.12 196.92h1.8v1.8h-1.8zM347.04 196.92h1.8v1.8h-1.8zM320.4 199.88h1.8v1.8h-1.8zM326.32 199.88h1.8v1.8h-1.8zM332.24 199.88h1.8v1.8h-1.8zM338.16 199.88h1.8v1.8h-1.8zM344.08 199.88h1.8v1.8h-1.8zM350 199.88h1.8v1.8h-1.8zM323.36 202.84h1.8v1.8h-1.8zM329.28 202.84h1.8v1.8h-1.8zM335.2 202.84h1.8v1.8h-1.8zM341.12 202.84h1.8v1.8h-1.8zM347.04 202.84h1.8v1.8h-1.8zM320.4 205.8h1.8v1.8h-1.8zM326.32 205.8h1.8v1.8h-1.8zM332.24 205.8h1.8v1.8h-1.8zM338.16 205.8h1.8v1.8h-1.8zM344.08 205.8h1.8v1.8h-1.8zM350 205.8h1.8v1.8h-1.8zM323.36 208.76h1.8v1.8h-1.8zM329.28 208.76h1.8v1.8h-1.8zM335.2 208.76h1.8v1.8h-1.8zM341.12 208.76h1.8v1.8h-1.8zM347.04 208.76h1.8v1.8h-1.8zM320.4 211.72h1.8v1.8h-1.8zM326.32 211.72h1.8v1.8h-1.8zM332.24 211.72h1.8v1.8h-1.8zM338.16 211.72h1.8v1.8h-1.8zM344.08 211.72h1.8v1.8h-1.8zM350 211.72h1.8v1.8h-1.8zM323.36 214.68h1.8v1.8h-1.8zM329.28 214.68h1.8v1.8h-1.8zM335.2 214.68h1.8v1.8h-1.8zM341.12 214.68h1.8v1.8h-1.8zM347.04 214.68h1.8v1.8h-1.8zM320.4 217.64h1.8v1.8h-1.8zM326.32 217.64h1.8v1.8h-1.8zM332.24 217.64h1.8v1.8h-1.8zM338.16 217.64h1.8v1.8h-1.8zM344.08 217.64h1.8v1.8h-1.8zM350 217.64h1.8v1.8h-1.8zM323.36 220.6h1.8v1.8h-1.8zM329.28 220.6h1.8v1.8h-1.8zM335.2 220.6h1.8v1.8h-1.8zM341.12 220.6h1.8v1.8h-1.8zM347.04 220.6h1.8v1.8h-1.8zM320.4 223.56h1.8v1.8h-1.8zM326.32 223.56h1.8v1.8h-1.8zM332.24 223.56h1.8v1.8h-1.8zM338.16 223.56h1.8v1.8h-1.8zM344.08 223.56h1.8v1.8h-1.8zM350 223.56h1.8v1.8h-1.8zM323.36 226.52h1.8v1.8h-1.8zM329.28 226.52h1.8v1.8h-1.8zM335.2 226.52h1.8v1.8h-1.8zM341.12 226.52h1.8v1.8h-1.8zM347.04 226.52h1.8v1.8h-1.8zM320.4 229.48h1.8v1.8h-1.8zM326.32 229.48h1.8v1.8h-1.8zM332.24 229.48h1.8v1.8h-1.8zM338.16 229.48h1.8v1.8h-1.8zM344.08 229.48h1.8v1.8h-1.8zM350 229.48h1.8v1.8h-1.8zM323.36 232.44h1.8v1.8h-1.8zM329.28 232.44h1.8v1.8h-1.8zM335.2 232.44h1.8v1.8h-1.8zM341.12 232.44h1.8v1.8h-1.8zM347.04 232.44h1.8v1.8h-1.8zM320.4 235.4h1.8v1.8h-1.8zM326.32 235.4h1.8v1.8h-1.8zM332.24 235.4h1.8v1.8h-1.8zM338.16 235.4h1.8v1.8h-1.8zM344.08 235.4h1.8v1.8h-1.8zM350 235.4h1.8v1.8h-1.8zM323.36 238.36h1.8v1.8h-1.8zM329.28 238.36h1.8v1.8h-1.8zM335.2 238.36h1.8v1.8h-1.8zM341.12 238.36h1.8v1.8h-1.8zM347.04 238.36h1.8v1.8h-1.8zM320.4 241.32h1.8v1.8h-1.8zM326.32 241.32h1.8v1.8h-1.8zM332.24 241.32h1.8v1.8h-1.8zM338.16 241.32h1.8v1.8h-1.8zM344.08 241.32h1.8v1.8h-1.8zM350 241.32h1.8v1.8h-1.8zM323.36 244.28h1.8v1.8h-1.8zM329.28 244.28h1.8v1.8h-1.8zM335.2 244.28h1.8v1.8h-1.8zM341.12 244.28h1.8v1.8h-1.8zM347.04 244.28h1.8v1.8h-1.8zM320.4 247.24h1.8v1.8h-1.8zM326.32 247.24h1.8v1.8h-1.8zM332.24 247.24h1.8v1.8h-1.8zM338.16 247.24h1.8v1.8h-1.8zM344.08 247.24h1.8v1.8h-1.8zM350 247.24h1.8v1.8h-1.8zM323.36 250.2h1.8v1.8h-1.8zM329.28 250.2h1.8v1.8h-1.8zM335.2 250.2h1.8v1.8h-1.8zM341.12 250.2h1.8v1.8h-1.8zM347.04 250.2h1.8v1.8h-1.8zM320.4 253.16h1.8v1.8h-1.8zM326.32 253.16h1.8v1.8h-1.8zM332.24 253.16h1.8v1.8h-1.8zM338.16 253.16h1.8v1.8h-1.8zM344.08 253.16h1.8v1.8h-1.8zM350 253.16h1.8v1.8h-1.8zM323.36 256.12h1.8v1.8h-1.8zM329.28 256.12h1.8v1.8h-1.8zM335.2 256.12h1.8v1.8h-1.8zM341.12 256.12h1.8v1.8h-1.8zM347.04 256.12h1.8v1.8h-1.8zM320.4 259.08h1.8v1.8h-1.8zM326.32 259.08h1.8v1.8h-1.8zM332.24 259.08h1.8v1.8h-1.8zM338.16 259.08h1.8v1.8h-1.8zM344.08 259.08h1.8v1.8h-1.8zM350 259.08h1.8v1.8h-1.8zM323.36 262.04h1.8v1.8h-1.8zM329.28 262.04h1.8v1.8h-1.8zM335.2 262.04h1.8v1.8h-1.8zM341.12 262.04h1.8v1.8h-1.8zM347.04 262.04h1.8v1.8h-1.8zM320.4 265h1.8v1.8h-1.8zM326.32 265h1.8v1.8h-1.8zM332.24 265h1.8v1.8h-1.8zM338.16 265h1.8v1.8h-1.8zM344.08 265h1.8v1.8h-1.8zM350 265h1.8v1.8h-1.8zM323.36 267.96h1.8v1.8h-1.8zM329.28 267.96h1.8v1.8h-1.8zM335.2 267.96h1.8v1.8h-1.8zM341.12 267.96h1.8v1.8h-1.8zM347.04 267.96h1.8v1.8h-1.8zM320.4 270.92h1.8v1.8h-1.8zM326.32 270.92h1.8v1.8h-1.8zM332.24 270.92h1.8v1.8h-1.8zM338.16 270.92h1.8v1.8h-1.8zM344.08 270.92h1.8v1.8h-1.8zM350 270.92h1.8v1.8h-1.8zM323.36 273.88h1.8v1.8h-1.8zM329.28 273.88h1.8v1.8h-1.8zM335.2 273.88h1.8v1.8h-1.8zM341.12 273.88h1.8v1.8h-1.8zM347.04 273.88h1.8v1.8h-1.8zM320.4 276.84h1.8v1.8h-1.8zM326.32 276.84h1.8v1.8h-1.8zM332.24 276.84h1.8v1.8h-1.8zM338.16 276.84h1.8v1.8h-1.8zM344.08 276.84h1.8v1.8h-1.8zM350 276.84h1.8v1.8h-1.8zM323.36 279.8h1.8v1.8h-1.8zM329.28 279.8h1.8v1.8h-1.8zM335.2 279.8h1.8v1.8h-1.8zM341.12 279.8h1.8v1.8h-1.8zM347.04 279.8h1.8v1.8h-1.8zM320.4 282.76h1.8v1.8h-1.8zM326.32 282.76h1.8v1.8h-1.8zM332.24 282.76h1.8v1.8h-1.8zM338.16 282.76h1.8v1.8h-1.8zM344.08 282.76h1.8v1.8h-1.8zM350 282.76h1.8v1.8h-1.8zM323.36 285.72h1.8v1.8h-1.8zM329.28 285.72h1.8v1.8h-1.8zM335.2 285.72h1.8v1.8h-1.8zM341.12 285.72h1.8v1.8h-1.8zM347.04 285.72h1.8v1.8h-1.8zM320.4 288.68h1.8v1.8h-1.8zM326.32 288.68h1.8v1.8h-1.8zM332.24 288.68h1.8v1.8h-1.8zM338.16 288.68h1.8v1.8h-1.8zM344.08 288.68h1.8v1.8h-1.8zM350 288.68h1.8v1.8h-1.8zM323.36 291.64h1.8v1.8h-1.8zM329.28 291.64h1.8v1.8h-1.8zM335.2 291.64h1.8v1.8h-1.8zM341.12 291.64h1.8v1.8h-1.8zM347.04 291.64h1.8v1.8h-1.8zM320.4 294.6h1.8v1.8h-1.8zM326.32 294.6h1.8v1.8h-1.8zM332.24 294.6h1.8v1.8h-1.8zM338.16 294.6h1.8v1.8h-1.8zM344.08 294.6h1.8v1.8h-1.8zM350 294.6h1.8v1.8h-1.8zM323.36 297.56h1.8v1.8h-1.8zM329.28 297.56h1.8v1.8h-1.8zM335.2 297.56h1.8v1.8h-1.8zM341.12 297.56h1.8v1.8h-1.8zM347.04 297.56h1.8v1.8h-1.8zM320.4 300.52h1.8v1.8h-1.8zM326.32 300.52h1.8v1.8h-1.8zM332.24 300.52h1.8v1.8h-1.8zM338.16 300.52h1.8v1.8h-1.8zM344.08 300.52h1.8v1.8h-1.8zM350 300.52h1.8v1.8h-1.8zM323.36 303.48h1.8v1.8h-1.8zM329.28 303.48h1.8v1.8h-1.8zM335.2 303.48h1.8v1.8h-1.8zM341.12 303.48h1.8v1.8h-1.8zM347.04 303.48h1.8v1.8h-1.8zM320.4 306.44h1.8v1.8h-1.8zM326.32 306.44h1.8v1.8h-1.8zM332.24 306.44h1.8v1.8h-1.8zM338.16 306.44h1.8v1.8h-1.8zM344.08 306.44h1.8v1.8h-1.8zM350 306.44h1.8v1.8h-1.8zM323.36 309.4h1.8v1.8h-1.8zM329.28 309.4h1.8v1.8h-1.8zM335.2 309.4h1.8v1.8h-1.8zM341.12 309.4h1.8v1.8h-1.8zM347.04 309.4h1.8v1.8h-1.8zM320.4 312.36h1.8v1.8h-1.8zM326.32 312.36h1.8v1.8h-1.8zM332.24 312.36h1.8v1.8h-1.8zM338.16 312.36h1.8v1.8h-1.8zM344.08 312.36h1.8v1.8h-1.8zM350 312.36h1.8v1.8h-1.8zM323.36 315.32h1.8v1.8h-1.8zM329.28 315.32h1.8v1.8h-1.8zM335.2 315.32h1.8v1.8h-1.8zM341.12 315.32h1.8v1.8h-1.8zM347.04 315.32h1.8v1.8h-1.8zM320.4 318.28h1.8v1.8h-1.8zM326.32 318.28h1.8v1.8h-1.8zM332.24 318.28h1.8v1.8h-1.8zM338.16 318.28h1.8v1.8h-1.8zM344.08 318.28h1.8v1.8h-1.8zM350 318.28h1.8v1.8h-1.8zM323.36 321.24h1.8v1.8h-1.8zM329.28 321.24h1.8v1.8h-1.8zM335.2 321.24h1.8v1.8h-1.8zM341.12 321.24h1.8v1.8h-1.8zM347.04 321.24h1.8v1.8h-1.8zM320.4 324.2h1.8v1.8h-1.8zM326.32 324.2h1.8v1.8h-1.8zM332.24 324.2h1.8v1.8h-1.8zM338.16 324.2h1.8v1.8h-1.8zM344.08 324.2h1.8v1.8h-1.8zM350 324.2h1.8v1.8h-1.8zM323.36 327.16h1.8v1.8h-1.8zM329.28 327.16h1.8v1.8h-1.8zM335.2 327.16h1.8v1.8h-1.8zM341.12 327.16h1.8v1.8h-1.8zM347.04 327.16h1.8v1.8h-1.8zM320.4 330.12h1.8v1.8h-1.8zM326.32 330.12h1.8v1.8h-1.8zM332.24 330.12h1.8v1.8h-1.8zM338.16 330.12h1.8v1.8h-1.8zM344.08 330.12h1.8v1.8h-1.8zM350 330.12h1.8v1.8h-1.8zM323.36 333.08h1.8v1.8h-1.8zM329.28 333.08h1.8v1.8h-1.8zM335.2 333.08h1.8v1.8h-1.8zM341.12 333.08h1.8v1.8h-1.8zM347.04 333.08h1.8v1.8h-1.8zM320.4 336.04h1.8v1.8h-1.8zM326.32 336.04h1.8v1.8h-1.8zM332.24 336.04h1.8v1.8h-1.8zM338.16 336.04h1.8v1.8h-1.8zM344.08 336.04h1.8v1.8h-1.8zM350 336.04h1.8v1.8h-1.8zM323.36 339h1.8v1.8h-1.8zM329.28 339h1.8v1.8h-1.8zM335.2 339h1.8v1.8h-1.8zM341.12 339h1.8v1.8h-1.8zM347.04 339h1.8v1.8h-1.8zM320.4 341.96h1.8v1.8h-1.8zM326.32 341.96h1.8v1.8h-1.8zM332.24 341.96h1.8v1.8h-1.8zM338.16 341.96h1.8v1.8h-1.8zM344.08 341.96h1.8v1.8h-1.8zM350 341.96h1.8v1.8h-1.8zM323.36 344.92h1.8v1.8h-1.8zM329.28 344.92h1.8v1.8h-1.8zM335.2 344.92h1.8v1.8h-1.8zM341.12 344.92h1.8v1.8h-1.8zM347.04 344.92h1.8v1.8h-1.8z"/>
<path d="M336.1 181.8V121.1" stroke="#f4282c" stroke-width="1.8" fill="none"/>
<path d="M332.2 121.1h7.8M332.2 181.8h7.8" stroke="#f4282c" stroke-width="2" fill="none"/>
<text x="336.4" y="117.1" font-size="15" text-anchor="middle" textLength="21" lengthAdjust="spacingAndGlyphs">197</text>
<rect x="396.2" y="128.6" width="33.5" height="218.8" fill="#ff0000"/>
<path fill="#fff" d="M400.36 131.8h1.8v1.8h-1.8zM406.28 131.8h1.8v1.8h-1.8zM412.2 131.8h1.8v1.8h-1.8zM418.12 131.8h1.8v1.8h-1.8zM424.04 131.8h1.8v1.8h-1.8zM397.4 134.76h1.8v1.8h-1.8zM403.32 134.76h1.8v1.8h-1.8zM409.24 134.76h1.8v1.8h-1.8zM415.16 134.76h1.8v1.8h-1.8zM421.08 134.76h1.8v1.8h-1.8zM427 134.76h1.8v1.8h-1.8zM400.36 137.72h1.8v1.8h-1.8zM406.28 137.72h1.8v1.8h-1.8zM412.2 137.72h1.8v1.8h-1.8zM418.12 137.72h1.8v1.8h-1.8zM424.04 137.72h1.8v1.8h-1.8zM397.4 140.68h1.8v1.8h-1.8zM403.32 140.68h1.8v1.8h-1.8zM409.24 140.68h1.8v1.8h-1.8zM415.16 140.68h1.8v1.8h-1.8zM421.08 140.68h1.8v1.8h-1.8zM427 140.68h1.8v1.8h-1.8zM400.36 143.64h1.8v1.8h-1.8zM406.28 143.64h1.8v1.8h-1.8zM412.2 143.64h1.8v1.8h-1.8zM418.12 143.64h1.8v1.8h-1.8zM424.04 143.64h1.8v1.8h-1.8zM397.4 146.6h1.8v1.8h-1.8zM403.32 146.6h1.8v1.8h-1.8zM409.24 146.6h1.8v1.8h-1.8zM415.16 146.6h1.8v1.8h-1.8zM421.08 146.6h1.8v1.8h-1.8zM427 146.6h1.8v1.8h-1.8zM400.36 149.56h1.8v1.8h-1.8zM406.28 149.56h1.8v1.8h-1.8zM412.2 149.56h1.8v1.8h-1.8zM418.12 149.56h1.8v1.8h-1.8zM424.04 149.56h1.8v1.8h-1.8zM397.4 152.52h1.8v1.8h-1.8zM403.32 152.52h1.8v1.8h-1.8zM409.24 152.52h1.8v1.8h-1.8zM415.16 152.52h1.8v1.8h-1.8zM421.08 152.52h1.8v1.8h-1.8zM427 152.52h1.8v1.8h-1.8zM400.36 155.48h1.8v1.8h-1.8zM406.28 155.48h1.8v1.8h-1.8zM412.2 155.48h1.8v1.8h-1.8zM418.12 155.48h1.8v1.8h-1.8zM424.04 155.48h1.8v1.8h-1.8zM397.4 158.44h1.8v1.8h-1.8zM403.32 158.44h1.8v1.8h-1.8zM409.24 158.44h1.8v1.8h-1.8zM415.16 158.44h1.8v1.8h-1.8zM421.08 158.44h1.8v1.8h-1.8zM427 158.44h1.8v1.8h-1.8zM400.36 161.4h1.8v1.8h-1.8zM406.28 161.4h1.8v1.8h-1.8zM412.2 161.4h1.8v1.8h-1.8zM418.12 161.4h1.8v1.8h-1.8zM424.04 161.4h1.8v1.8h-1.8zM397.4 164.36h1.8v1.8h-1.8zM403.32 164.36h1.8v1.8h-1.8zM409.24 164.36h1.8v1.8h-1.8zM415.16 164.36h1.8v1.8h-1.8zM421.08 164.36h1.8v1.8h-1.8zM427 164.36h1.8v1.8h-1.8zM400.36 167.32h1.8v1.8h-1.8zM406.28 167.32h1.8v1.8h-1.8zM412.2 167.32h1.8v1.8h-1.8zM418.12 167.32h1.8v1.8h-1.8zM424.04 167.32h1.8v1.8h-1.8zM397.4 170.28h1.8v1.8h-1.8zM403.32 170.28h1.8v1.8h-1.8zM409.24 170.28h1.8v1.8h-1.8zM415.16 170.28h1.8v1.8h-1.8zM421.08 170.28h1.8v1.8h-1.8zM427 170.28h1.8v1.8h-1.8zM400.36 173.24h1.8v1.8h-1.8zM406.28 173.24h1.8v1.8h-1.8zM412.2 173.24h1.8v1.8h-1.8zM418.12 173.24h1.8v1.8h-1.8zM424.04 173.24h1.8v1.8h-1.8zM397.4 176.2h1.8v1.8h-1.8zM403.32 176.2h1.8v1.8h-1.8zM409.24 176.2h1.8v1.8h-1.8zM415.16 176.2h1.8v1.8h-1.8zM421.08 176.2h1.8v1.8h-1.8zM427 176.2h1.8v1.8h-1.8zM400.36 179.16h1.8v1.8h-1.8zM406.28 179.16h1.8v1.8h-1.8zM412.2 179.16h1.8v1.8h-1.8zM418.12 179.16h1.8v1.8h-1.8zM424.04 179.16h1.8v1.8h-1.8zM397.4 182.12h1.8v1.8h-1.8zM403.32 182.12h1.8v1.8h-1.8zM409.24 182.12h1.8v1.8h-1.8zM415.16 182.12h1.8v1.8h-1.8zM421.08 182.12h1.8v1.8h-1.8zM427 182.12h1.8v1.8h-1.8zM400.36 185.08h1.8v1.8h-1.8zM406.28 185.08h1.8v1.8h-1.8zM412.2 185.08h1.8v1.8h-1.8zM418.12 185.08h1.8v1.8h-1.8zM424.04 185.08h1.8v1.8h-1.8zM397.4 188.04h1.8v1.8h-1.8zM403.32 188.04h1.8v1.8h-1.8zM409.24 188.04h1.8v1.8h-1.8zM415.16 188.04h1.8v1.8h-1.8zM421.08 188.04h1.8v1.8h-1.8zM427 188.04h1.8v1.8h-1.8zM400.36 191h1.8v1.8h-1.8zM406.28 191h1.8v1.8h-1.8zM412.2 191h1.8v1.8h-1.8zM418.12 191h1.8v1.8h-1.8zM424.04 191h1.8v1.8h-1.8zM397.4 193.96h1.8v1.8h-1.8zM403.32 193.96h1.8v1.8h-1.8zM409.24 193.96h1.8v1.8h-1.8zM415.16 193.96h1.8v1.8h-1.8zM421.08 193.96h1.8v1.8h-1.8zM427 193.96h1.8v1.8h-1.8zM400.36 196.92h1.8v1.8h-1.8zM406.28 196.92h1.8v1.8h-1.8zM412.2 196.92h1.8v1.8h-1.8zM418.12 196.92h1.8v1.8h-1.8zM424.04 196.92h1.8v1.8h-1.8zM397.4 199.88h1.8v1.8h-1.8zM403.32 199.88h1.8v1.8h-1.8zM409.24 199.88h1.8v1.8h-1.8zM415.16 199.88h1.8v1.8h-1.8zM421.08 199.88h1.8v1.8h-1.8zM427 199.88h1.8v1.8h-1.8zM400.36 202.84h1.8v1.8h-1.8zM406.28 202.84h1.8v1.8h-1.8zM412.2 202.84h1.8v1.8h-1.8zM418.12 202.84h1.8v1.8h-1.8zM424.04 202.84h1.8v1.8h-1.8zM397.4 205.8h1.8v1.8h-1.8zM403.32 205.8h1.8v1.8h-1.8zM409.24 205.8h1.8v1.8h-1.8zM415.16 205.8h1.8v1.8h-1.8zM421.08 205.8h1.8v1.8h-1.8zM427 205.8h1.8v1.8h-1.8zM400.36 208.76h1.8v1.8h-1.8zM406.28 208.76h1.8v1.8h-1.8zM412.2 208.76h1.8v1.8h-1.8zM418.12 208.76h1.8v1.8h-1.8zM424.04 208.76h1.8v1.8h-1.8zM397.4 211.72h1.8v1.8h-1.8zM403.32 211.72h1.8v1.8h-1.8zM409.24 211.72h1.8v1.8h-1.8zM415.16 211.72h1.8v1.8h-1.8zM421.08 211.72h1.8v1.8h-1.8zM427 211.72h1.8v1.8h-1.8zM400.36 214.68h1.8v1.8h-1.8zM406.28 214.68h1.8v1.8h-1.8zM412.2 214.68h1.8v1.8h-1.8zM418.12 214.68h1.8v1.8h-1.8zM424.04 214.68h1.8v1.8h-1.8zM397.4 217.64h1.8v1.8h-1.8zM403.32 217.64h1.8v1.8h-1.8zM409.24 217.64h1.8v1.8h-1.8zM415.16 217.64h1.8v1.8h-1.8zM421.08 217.64h1.8v1.8h-1.8zM427 217.64h1.8v1.8h-1.8zM400.36 220.6h1.8v1.8h-1.8zM406.28 220.6h1.8v1.8h-1.8zM412.2 220.6h1.8v1.8h-1.8zM418.12 220.6h1.8v1.8h-1.8zM424.04 220.6h1.8v1.8h-1.8zM397.4 223.56h1.8v1.8h-1.8zM403.32 223.56h1.8v1.8h-1.8zM409.24 223.56h1.8v1.8h-1.8zM415.16 223.56h1.8v1.8h-1.8zM421.08 223.56h1.8v1.8h-1.8zM427 223.56h1.8v1.8h-1.8zM400.36 226.52h1.8v1.8h-1.8zM406.28 226.52h1.8v1.8h-1.8zM412.2 226.52h1.8v1.8h-1.8zM418.12 226.52h1.8v1.8h-1.8zM424.04 226.52h1.8v1.8h-1.8zM397.4 229.48h1.8v1.8h-1.8zM403.32 229.48h1.8v1.8h-1.8zM409.24 229.48h1.8v1.8h-1.8zM415.16 229.48h1.8v1.8h-1.8zM421.08 229.48h1.8v1.8h-1.8zM427 229.48h1.8v1.8h-1.8zM400.36 232.44h1.8v1.8h-1.8zM406.28 232.44h1.8v1.8h-1.8zM412.2 232.44h1.8v1.8h-1.8zM418.12 232.44h1.8v1.8h-1.8zM424.04 232.44h1.8v1.8h-1.8zM397.4 235.4h1.8v1.8h-1.8zM403.32 235.4h1.8v1.8h-1.8zM409.24 235.4h1.8v1.8h-1.8zM415.16 235.4h1.8v1.8h-1.8zM421.08 235.4h1.8v1.8h-1.8zM427 235.4h1.8v1.8h-1.8zM400.36 238.36h1.8v1.8h-1.8zM406.28 238.36h1.8v1.8h-1.8zM412.2 238.36h1.8v1.8h-1.8zM418.12 238.36h1.8v1.8h-1.8zM424.04 238.36h1.8v1.8h-1.8zM397.4 241.32h1.8v1.8h-1.8zM403.32 241.32h1.8v1.8h-1.8zM409.24 241.32h1.8v1.8h-1.8zM415.16 241.32h1.8v1.8h-1.8zM421.08 241.32h1.8v1.8h-1.8zM427 241.32h1.8v1.8h-1.8zM400.36 244.28h1.8v1.8h-1.8zM406.28 244.28h1.8v1.8h-1.8zM412.2 244.28h1.8v1.8h-1.8zM418.12 244.28h1.8v1.8h-1.8zM424.04 244.28h1.8v1.8h-1.8zM397.4 247.24h1.8v1.8h-1.8zM403.32 247.24h1.8v1.8h-1.8zM409.24 247.24h1.8v1.8h-1.8zM415.16 247.24h1.8v1.8h-1.8zM421.08 247.24h1.8v1.8h-1.8zM427 247.24h1.8v1.8h-1.8zM400.36 250.2h1.8v1.8h-1.8zM406.28 250.2h1.8v1.8h-1.8zM412.2 250.2h1.8v1.8h-1.8zM418.12 250.2h1.8v1.8h-1.8zM424.04 250.2h1.8v1.8h-1.8zM397.4 253.16h1.8v1.8h-1.8zM403.32 253.16h1.8v1.8h-1.8zM409.24 253.16h1.8v1.8h-1.8zM415.16 253.16h1.8v1.8h-1.8zM421.08 253.16h1.8v1.8h-1.8zM427 253.16h1.8v1.8h-1.8zM400.36 256.12h1.8v1.8h-1.8zM406.28 256.12h1.8v1.8h-1.8zM412.2 256.12h1.8v1.8h-1.8zM418.12 256.12h1.8v1.8h-1.8zM424.04 256.12h1.8v1.8h-1.8zM397.4 259.08h1.8v1.8h-1.8zM403.32 259.08h1.8v1.8h-1.8zM409.24 259.08h1.8v1.8h-1.8zM415.16 259.08h1.8v1.8h-1.8zM421.08 259.08h1.8v1.8h-1.8zM427 259.08h1.8v1.8h-1.8zM400.36 262.04h1.8v1.8h-1.8zM406.28 262.04h1.8v1.8h-1.8zM412.2 262.04h1.8v1.8h-1.8zM418.12 262.04h1.8v1.8h-1.8zM424.04 262.04h1.8v1.8h-1.8zM397.4 265h1.8v1.8h-1.8zM403.32 265h1.8v1.8h-1.8zM409.24 265h1.8v1.8h-1.8zM415.16 265h1.8v1.8h-1.8zM421.08 265h1.8v1.8h-1.8zM427 265h1.8v1.8h-1.8zM400.36 267.96h1.8v1.8h-1.8zM406.28 267.96h1.8v1.8h-1.8zM412.2 267.96h1.8v1.8h-1.8zM418.12 267.96h1.8v1.8h-1.8zM424.04 267.96h1.8v1.8h-1.8zM397.4 270.92h1.8v1.8h-1.8zM403.32 270.92h1.8v1.8h-1.8zM409.24 270.92h1.8v1.8h-1.8zM415.16 270.92h1.8v1.8h-1.8zM421.08 270.92h1.8v1.8h-1.8zM427 270.92h1.8v1.8h-1.8zM400.36 273.88h1.8v1.8h-1.8zM406.28 273.88h1.8v1.8h-1.8zM412.2 273.88h1.8v1.8h-1.8zM418.12 273.88h1.8v1.8h-1.8zM424.04 273.88h1.8v1.8h-1.8zM397.4 276.84h1.8v1.8h-1.8zM403.32 276.84h1.8v1.8h-1.8zM409.24 276.84h1.8v1.8h-1.8zM415.16 276.84h1.8v1.8h-1.8zM421.08 276.84h1.8v1.8h-1.8zM427 276.84h1.8v1.8h-1.8zM400.36 279.8h1.8v1.8h-1.8zM406.28 279.8h1.8v1.8h-1.8zM412.2 279.8h1.8v1.8h-1.8zM418.12 279.8h1.8v1.8h-1.8zM424.04 279.8h1.8v1.8h-1.8zM397.4 282.76h1.8v1.8h-1.8zM403.32 282.76h1.8v1.8h-1.8zM409.24 282.76h1.8v1.8h-1.8zM415.16 282.76h1.8v1.8h-1.8zM421.08 282.76h1.8v1.8h-1.8zM427 282.76h1.8v1.8h-1.8zM400.36 285.72h1.8v1.8h-1.8zM406.28 285.72h1.8v1.8h-1.8zM412.2 285.72h1.8v1.8h-1.8zM418.12 285.72h1.8v1.8h-1.8zM424.04 285.72h1.8v1.8h-1.8zM397.4 288.68h1.8v1.8h-1.8zM403.32 288.68h1.8v1.8h-1.8zM409.24 288.68h1.8v1.8h-1.8zM415.16 288.68h1.8v1.8h-1.8zM421.08 288.68h1.8v1.8h-1.8zM427 288.68h1.8v1.8h-1.8zM400.36 291.64h1.8v1.8h-1.8zM406.28 291.64h1.8v1.8h-1.8zM412.2 291.64h1.8v1.8h-1.8zM418.12 291.64h1.8v1.8h-1.8zM424.04 291.64h1.8v1.8h-1.8zM397.4 294.6h1.8v1.8h-1.8zM403.32 294.6h1.8v1.8h-1.8zM409.24 294.6h1.8v1.8h-1.8zM415.16 294.6h1.8v1.8h-1.8zM421.08 294.6h1.8v1.8h-1.8zM427 294.6h1.8v1.8h-1.8zM400.36 297.56h1.8v1.8h-1.8zM406.28 297.56h1.8v1.8h-1.8zM412.2 297.56h1.8v1.8h-1.8zM418.12 297.56h1.8v1.8h-1.8zM424.04 297.56h1.8v1.8h-1.8zM397.4 300.52h1.8v1.8h-1.8zM403.32 300.52h1.8v1.8h-1.8zM409.24 300.52h1.8v1.8h-1.8zM415.16 300.52h1.8v1.8h-1.8zM421.08 300.52h1.8v1.8h-1.8zM427 300.52h1.8v1.8h-1.8zM400.36 303.48h1.8v1.8h-1.8zM406.28 303.48h1.8v1.8h-1.8zM412.2 303.48h1.8v1.8h-1.8zM418.12 303.48h1.8v1.8h-1.8zM424.04 303.48h1.8v1.8h-1.8zM397.4 306.44h1.8v1.8h-1.8zM403.32 306.44h1.8v1.8h-1.8zM409.24 306.44h1.8v1.8h-1.8zM415.16 306.44h1.8v1.8h-1.8zM421.08 306.44h1.8v1.8h-1.8zM427 306.44h1.8v1.8h-1.8zM400.36 309.4h1.8v1.8h-1.8zM406.28 309.4h1.8v1.8h-1.8zM412.2 309.4h1.8v1.8h-1.8zM418.12 309.4h1.8v1.8h-1.8zM424.04 309.4h1.8v1.8h-1.8zM397.4 312.36h1.8v1.8h-1.8zM403.32 312.36h1.8v1.8h-1.8zM409.24 312.36h1.8v1.8h-1.8zM415.16 312.36h1.8v1.8h-1.8zM421.08 312.36h1.8v1.8h-1.8zM427 312.36h1.8v1.8h-1.8zM400.36 315.32h1.8v1.8h-1.8zM406.28 315.32h1.8v1.8h-1.8zM412.2 315.32h1.8v1.8h-1.8zM418.12 315.32h1.8v1.8h-1.8zM424.04 315.32h1.8v1.8h-1.8zM397.4 318.28h1.8v1.8h-1.8zM403.32 318.28h1.8v1.8h-1.8zM409.24 318.28h1.8v1.8h-1.8zM415.16 318.28h1.8v1.8h-1.8zM421.08 318.28h1.8v1.8h-1.8zM427 318.28h1.8v1.8h-1.8zM400.36 321.24h1.8v1.8h-1.8zM406.28 321.24h1.8v1.8h-1.8zM412.2 321.24h1.8v1.8h-1.8zM418.12 321.24h1.8v1.8h-1.8zM424.04 321.24h1.8v1.8h-1.8zM397.4 324.2h1.8v1.8h-1.8zM403.32 324.2h1.8v1.8h-1.8zM409.24 324.2h1.8v1.8h-1.8zM415.16 324.2h1.8v1.8h-1.8zM421.08 324.2h1.8v1.8h-1.8zM427 324.2h1.8v1.8h-1.8zM400.36 327.16h1.8v1.8h-1.8zM406.28 327.16h1.8v1.8h-1.8zM412.2 327.16h1.8v1.8h-1.8zM418.12 327.16h1.8v1.8h-1.8zM424.04 327.16h1.8v1.8h-1.8zM397.4 330.12h1.8v1.8h-1.8zM403.32 330.12h1.8v1.8h-1.8zM409.24 330.12h1.8v1.8h-1.8zM415.16 330.12h1.8v1.8h-1.8zM421.08 330.12h1.8v1.8h-1.8zM427 330.12h1.8v1.8h-1.8zM400.36 333.08h1.8v1.8h-1.8zM406.28 333.08h1.8v1.8h-1.8zM412.2 333.08h1.8v1.8h-1.8zM418.12 333.08h1.8v1.8h-1.8zM424.04 333.08h1.8v1.8h-1.8zM397.4 336.04h1.8v1.8h-1.8zM403.32 336.04h1.8v1.8h-1.8zM409.24 336.04h1.8v1.8h-1.8zM415.16 336.04h1.8v1.8h-1.8zM421.08 336.04h1.8v1.8h-1.8zM427 336.04h1.8v1.8h-1.8zM400.36 339h1.8v1.8h-1.8zM406.28 339h1.8v1.8h-1.8zM412.2 339h1.8v1.8h-1.8zM418.12 339h1.8v1.8h-1.8zM424.04 339h1.8v1.8h-1.8zM397.4 341.96h1.8v1.8h-1.8zM403.32 341.96h1.8v1.8h-1.8zM409.24 341.96h1.8v1.8h-1.8zM415.16 341.96h1.8v1.8h-1.8zM421.08 341.96h1.8v1.8h-1.8zM427 341.96h1.8v1.8h-1.8zM400.36 344.92h1.8v1.8h-1.8zM406.28 344.92h1.8v1.8h-1.8zM412.2 344.92h1.8v1.8h-1.8zM418.12 344.92h1.8v1.8h-1.8zM424.04 344.92h1.8v1.8h-1.8z"/>
<path d="M413.1 146.7V112.4" stroke="#f4282c" stroke-width="1.8" fill="none"/>
<path d="M409.2 112.4h7.8M409.2 146.7h7.8" stroke="#f4282c" stroke-width="2" fill="none"/>
<text x="413.5" y="109.3" font-size="15" text-anchor="middle" textLength="21" lengthAdjust="spacingAndGlyphs">219</text>
<rect x="119.3" y="265.9" width="33.3" height="81.5" fill="#0000ff"/>
<path fill="#fff" d="M121.95 270.2h2.5v2.2h-2.5zM126.15 270.2h2.5v2.2h-2.5zM130.35 270.2h2.5v2.2h-2.5zM134.55 270.2h2.5v2.2h-2.5zM138.75 270.2h2.5v2.2h-2.5zM142.95 270.2h2.5v2.2h-2.5zM147.15 270.2h2.5v2.2h-2.5zM121.95 274.4h2.5v2.2h-2.5zM126.15 274.4h2.5v2.2h-2.5zM130.35 274.4h2.5v2.2h-2.5zM134.55 274.4h2.5v2.2h-2.5zM138.75 274.4h2.5v2.2h-2.5zM142.95 274.4h2.5v2.2h-2.5zM147.15 274.4h2.5v2.2h-2.5zM121.95 278.6h2.5v2.2h-2.5zM126.15 278.6h2.5v2.2h-2.5zM130.35 278.6h2.5v2.2h-2.5zM134.55 278.6h2.5v2.2h-2.5zM138.75 278.6h2.5v2.2h-2.5zM142.95 278.6h2.5v2.2h-2.5zM147.15 278.6h2.5v2.2h-2.5zM121.95 282.8h2.5v2.2h-2.5zM126.15 282.8h2.5v2.2h-2.5zM130.35 282.8h2.5v2.2h-2.5zM134.55 282.8h2.5v2.2h-2.5zM138.75 282.8h2.5v2.2h-2.5zM142.95 282.8h2.5v2.2h-2.5zM147.15 282.8h2.5v2.2h-2.5zM121.95 287h2.5v2.2h-2.5zM126.15 287h2.5v2.2h-2.5zM130.35 287h2.5v2.2h-2.5zM134.55 287h2.5v2.2h-2.5zM138.75 287h2.5v2.2h-2.5zM142.95 287h2.5v2.2h-2.5zM147.15 287h2.5v2.2h-2.5zM121.95 291.2h2.5v2.2h-2.5zM126.15 291.2h2.5v2.2h-2.5zM130.35 291.2h2.5v2.2h-2.5zM134.55 291.2h2.5v2.2h-2.5zM138.75 291.2h2.5v2.2h-2.5zM142.95 291.2h2.5v2.2h-2.5zM147.15 291.2h2.5v2.2h-2.5zM121.95 295.4h2.5v2.2h-2.5zM126.15 295.4h2.5v2.2h-2.5zM130.35 295.4h2.5v2.2h-2.5zM134.55 295.4h2.5v2.2h-2.5zM138.75 295.4h2.5v2.2h-2.5zM142.95 295.4h2.5v2.2h-2.5zM147.15 295.4h2.5v2.2h-2.5zM121.95 299.6h2.5v2.2h-2.5zM126.15 299.6h2.5v2.2h-2.5zM130.35 299.6h2.5v2.2h-2.5zM134.55 299.6h2.5v2.2h-2.5zM138.75 299.6h2.5v2.2h-2.5zM142.95 299.6h2.5v2.2h-2.5zM147.15 299.6h2.5v2.2h-2.5zM121.95 303.8h2.5v2.2h-2.5zM126.15 303.8h2.5v2.2h-2.5zM130.35 303.8h2.5v2.2h-2.5zM134.55 303.8h2.5v2.2h-2.5zM138.75 303.8h2.5v2.2h-2.5zM142.95 303.8h2.5v2.2h-2.5zM147.15 303.8h2.5v2.2h-2.5zM121.95 308h2.5v2.2h-2.5zM126.15 308h2.5v2.2h-2.5zM130.35 308h2.5v2.2h-2.5zM134.55 308h2.5v2.2h-2.5zM138.75 308h2.5v2.2h-2.5zM142.95 308h2.5v2.2h-2.5zM147.15 308h2.5v2.2h-2.5zM121.95 312.2h2.5v2.2h-2.5zM126.15 312.2h2.5v2.2h-2.5zM130.35 312.2h2.5v2.2h-2.5zM134.55 312.2h2.5v2.2h-2.5zM138.75 312.2h2.5v2.2h-2.5zM142.95 312.2h2.5v2.2h-2.5zM147.15 312.2h2.5v2.2h-2.5zM121.95 316.4h2.5v2.2h-2.5zM126.15 316.4h2.5v2.2h-2.5zM130.35 316.4h2.5v2.2h-2.5zM134.55 316.4h2.5v2.2h-2.5zM138.75 316.4h2.5v2.2h-2.5zM142.95 316.4h2.5v2.2h-2.5zM147.15 316.4h2.5v2.2h-2.5zM121.95 320.6h2.5v2.2h-2.5zM126.15 320.6h2.5v2.2h-2.5zM130.35 320.6h2.5v2.2h-2.5zM134.55 320.6h2.5v2.2h-2.5zM138.75 320.6h2.5v2.2h-2.5zM142.95 320.6h2.5v2.2h-2.5zM147.15 320.6h2.5v2.2h-2.5zM121.95 324.8h2.5v2.2h-2.5zM126.15 324.8h2.5v2.2h-2.5zM130.35 324.8h2.5v2.2h-2.5zM134.55 324.8h2.5v2.2h-2.5zM138.75 324.8h2.5v2.2h-2.5zM142.95 324.8h2.5v2.2h-2.5zM147.15 324.8h2.5v2.2h-2.5zM121.95 329h2.5v2.2h-2.5zM126.15 329h2.5v2.2h-2.5zM130.35 329h2.5v2.2h-2.5zM134.55 329h2.5v2.2h-2.5zM138.75 329h2.5v2.2h-2.5zM142.95 329h2.5v2.2h-2.5zM147.15 329h2.5v2.2h-2.5zM121.95 333.2h2.5v2.2h-2.5zM126.15 333.2h2.5v2.2h-2.5zM130.35 333.2h2.5v2.2h-2.5zM134.55 333.2h2.5v2.2h-2.5zM138.75 333.2h2.5v2.2h-2.5zM142.95 333.2h2.5v2.2h-2.5zM147.15 333.2h2.5v2.2h-2.5zM121.95 337.4h2.5v2.2h-2.5zM126.15 337.4h2.5v2.2h-2.5zM130.35 337.4h2.5v2.2h-2.5zM134.55 337.4h2.5v2.2h-2.5zM138.75 337.4h2.5v2.2h-2.5zM142.95 337.4h2.5v2.2h-2.5zM147.15 337.4h2.5v2.2h-2.5zM121.95 341.6h2.5v2.2h-2.5zM126.15 341.6h2.5v2.2h-2.5zM130.35 341.6h2.5v2.2h-2.5zM134.55 341.6h2.5v2.2h-2.5zM138.75 341.6h2.5v2.2h-2.5zM142.95 341.6h2.5v2.2h-2.5zM147.15 341.6h2.5v2.2h-2.5zM121.95 345.8h2.5v0.6h-2.5zM126.15 345.8h2.5v0.6h-2.5zM130.35 345.8h2.5v0.6h-2.5zM134.55 345.8h2.5v0.6h-2.5zM138.75 345.8h2.5v0.6h-2.5zM142.95 345.8h2.5v0.6h-2.5zM147.15 345.8h2.5v0.6h-2.5z"/>
<path d="M135.7 279.5V256.2M131.8 256.2h7.8" stroke="#0000ff" stroke-width="2" fill="none"/>
<text x="136.2" y="252.7" font-size="15" text-anchor="middle" textLength="14" lengthAdjust="spacingAndGlyphs">80</text>
<rect x="196.3" y="275.8" width="33.3" height="71.6" fill="#0000ff"/>
<path fill="#fff" d="M198.95 278.6h2.5v2.2h-2.5zM203.15 278.6h2.5v2.2h-2.5zM207.35 278.6h2.5v2.2h-2.5zM211.55 278.6h2.5v2.2h-2.5zM215.75 278.6h2.5v2.2h-2.5zM219.95 278.6h2.5v2.2h-2.5zM224.15 278.6h2.5v2.2h-2.5zM198.95 282.8h2.5v2.2h-2.5zM203.15 282.8h2.5v2.2h-2.5zM207.35 282.8h2.5v2.2h-2.5zM211.55 282.8h2.5v2.2h-2.5zM215.75 282.8h2.5v2.2h-2.5zM219.95 282.8h2.5v2.2h-2.5zM224.15 282.8h2.5v2.2h-2.5zM198.95 287h2.5v2.2h-2.5zM203.15 287h2.5v2.2h-2.5zM207.35 287h2.5v2.2h-2.5zM211.55 287h2.5v2.2h-2.5zM215.75 287h2.5v2.2h-2.5zM219.95 287h2.5v2.2h-2.5zM224.15 287h2.5v2.2h-2.5zM198.95 291.2h2.5v2.2h-2.5zM203.15 291.2h2.5v2.2h-2.5zM207.35 291.2h2.5v2.2h-2.5zM211.55 291.2h2.5v2.2h-2.5zM215.75 291.2h2.5v2.2h-2.5zM219.95 291.2h2.5v2.2h-2.5zM224.15 291.2h2.5v2.2h-2.5zM198.95 295.4h2.5v2.2h-2.5zM203.15 295.4h2.5v2.2h-2.5zM207.35 295.4h2.5v2.2h-2.5zM211.55 295.4h2.5v2.2h-2.5zM215.75 295.4h2.5v2.2h-2.5zM219.95 295.4h2.5v2.2h-2.5zM224.15 295.4h2.5v2.2h-2.5zM198.95 299.6h2.5v2.2h-2.5zM203.15 299.6h2.5v2.2h-2.5zM207.35 299.6h2.5v2.2h-2.5zM211.55 299.6h2.5v2.2h-2.5zM215.75 299.6h2.5v2.2h-2.5zM219.95 299.6h2.5v2.2h-2.5zM224.15 299.6h2.5v2.2h-2.5zM198.95 303.8h2.5v2.2h-2.5zM203.15 303.8h2.5v2.2h-2.5zM207.35 303.8h2.5v2.2h-2.5zM211.55 303.8h2.5v2.2h-2.5zM215.75 303.8h2.5v2.2h-2.5zM219.95 303.8h2.5v2.2h-2.5zM224.15 303.8h2.5v2.2h-2.5zM198.95 308h2.5v2.2h-2.5zM203.15 308h2.5v2.2h-2.5zM207.35 308h2.5v2.2h-2.5zM211.55 308h2.5v2.2h-2.5zM215.75 308h2.5v2.2h-2.5zM219.95 308h2.5v2.2h-2.5zM224.15 308h2.5v2.2h-2.5zM198.95 312.2h2.5v2.2h-2.5zM203.15 312.2h2.5v2.2h-2.5zM207.35 312.2h2.5v2.2h-2.5zM211.55 312.2h2.5v2.2h-2.5zM215.75 312.2h2.5v2.2h-2.5zM219.95 312.2h2.5v2.2h-2.5zM224.15 312.2h2.5v2.2h-2.5zM198.95 316.4h2.5v2.2h-2.5zM203.15 316.4h2.5v2.2h-2.5zM207.35 316.4h2.5v2.2h-2.5zM211.55 316.4h2.5v2.2h-2.5zM215.75 316.4h2.5v2.2h-2.5zM219.95 316.4h2.5v2.2h-2.5zM224.15 316.4h2.5v2.2h-2.5zM198.95 320.6h2.5v2.2h-2.5zM203.15 320.6h2.5v2.2h-2.5zM207.35 320.6h2.5v2.2h-2.5zM211.55 320.6h2.5v2.2h-2.5zM215.75 320.6h2.5v2.2h-2.5zM219.95 320.6h2.5v2.2h-2.5zM224.15 320.6h2.5v2.2h-2.5zM198.95 324.8h2.5v2.2h-2.5zM203.15 324.8h2.5v2.2h-2.5zM207.35 324.8h2.5v2.2h-2.5zM211.55 324.8h2.5v2.2h-2.5zM215.75 324.8h2.5v2.2h-2.5zM219.95 324.8h2.5v2.2h-2.5zM224.15 324.8h2.5v2.2h-2.5zM198.95 329h2.5v2.2h-2.5zM203.15 329h2.5v2.2h-2.5zM207.35 329h2.5v2.2h-2.5zM211.55 329h2.5v2.2h-2.5zM215.75 329h2.5v2.2h-2.5zM219.95 329h2.5v2.2h-2.5zM224.15 329h2.5v2.2h-2.5zM198.95 333.2h2.5v2.2h-2.5zM203.15 333.2h2.5v2.2h-2.5zM207.35 333.2h2.5v2.2h-2.5zM211.55 333.2h2.5v2.2h-2.5zM215.75 333.2h2.5v2.2h-2.5zM219.95 333.2h2.5v2.2h-2.5zM224.15 333.2h2.5v2.2h-2.5zM198.95 337.4h2.5v2.2h-2.5zM203.15 337.4h2.5v2.2h-2.5zM207.35 337.4h2.5v2.2h-2.5zM211.55 337.4h2.5v2.2h-2.5zM215.75 337.4h2.5v2.2h-2.5zM219.95 337.4h2.5v2.2h-2.5zM224.15 337.4h2.5v2.2h-2.5zM198.95 341.6h2.5v2.2h-2.5zM203.15 341.6h2.5v2.2h-2.5zM207.35 341.6h2.5v2.2h-2.5zM211.55 341.6h2.5v2.2h-2.5zM215.75 341.6h2.5v2.2h-2.5zM219.95 341.6h2.5v2.2h-2.5zM224.15 341.6h2.5v2.2h-2.5zM198.95 345.8h2.5v0.6h-2.5zM203.15 345.8h2.5v0.6h-2.5zM207.35 345.8h2.5v0.6h-2.5zM211.55 345.8h2.5v0.6h-2.5zM215.75 345.8h2.5v0.6h-2.5zM219.95 345.8h2.5v0.6h-2.5zM224.15 345.8h2.5v0.6h-2.5z"/>
<path d="M212.7 279.6V274.0M208.8 274.0h7.8" stroke="#0000ff" stroke-width="2" fill="none"/>
<text x="212.5" y="270.0" font-size="15" text-anchor="middle" textLength="14" lengthAdjust="spacingAndGlyphs">71</text>
<rect x="273.3" y="257.9" width="33.3" height="89.5" fill="#0000ff"/>
<path fill="#fff" d="M275.95 261.8h2.5v2.2h-2.5zM280.15 261.8h2.5v2.2h-2.5zM284.35 261.8h2.5v2.2h-2.5zM288.55 261.8h2.5v2.2h-2.5zM292.75 261.8h2.5v2.2h-2.5zM296.95 261.8h2.5v2.2h-2.5zM301.15 261.8h2.5v2.2h-2.5zM275.95 266h2.5v2.2h-2.5zM280.15 266h2.5v2.2h-2.5zM284.35 266h2.5v2.2h-2.5zM288.55 266h2.5v2.2h-2.5zM292.75 266h2.5v2.2h-2.5zM296.95 266h2.5v2.2h-2.5zM301.15 266h2.5v2.2h-2.5zM275.95 270.2h2.5v2.2h-2.5zM280.15 270.2h2.5v2.2h-2.5zM284.35 270.2h2.5v2.2h-2.5zM288.55 270.2h2.5v2.2h-2.5zM292.75 270.2h2.5v2.2h-2.5zM296.95 270.2h2.5v2.2h-2.5zM301.15 270.2h2.5v2.2h-2.5zM275.95 274.4h2.5v2.2h-2.5zM280.15 274.4h2.5v2.2h-2.5zM284.35 274.4h2.5v2.2h-2.5zM288.55 274.4h2.5v2.2h-2.5zM292.75 274.4h2.5v2.2h-2.5zM296.95 274.4h2.5v2.2h-2.5zM301.15 274.4h2.5v2.2h-2.5zM275.95 278.6h2.5v2.2h-2.5zM280.15 278.6h2.5v2.2h-2.5zM284.35 278.6h2.5v2.2h-2.5zM288.55 278.6h2.5v2.2h-2.5zM292.75 278.6h2.5v2.2h-2.5zM296.95 278.6h2.5v2.2h-2.5zM301.15 278.6h2.5v2.2h-2.5zM275.95 282.8h2.5v2.2h-2.5zM280.15 282.8h2.5v2.2h-2.5zM284.35 282.8h2.5v2.2h-2.5zM288.55 282.8h2.5v2.2h-2.5zM292.75 282.8h2.5v2.2h-2.5zM296.95 282.8h2.5v2.2h-2.5zM301.15 282.8h2.5v2.2h-2.5zM275.95 287h2.5v2.2h-2.5zM280.15 287h2.5v2.2h-2.5zM284.35 287h2.5v2.2h-2.5zM288.55 287h2.5v2.2h-2.5zM292.75 287h2.5v2.2h-2.5zM296.95 287h2.5v2.2h-2.5zM301.15 287h2.5v2.2h-2.5zM275.95 291.2h2.5v2.2h-2.5zM280.15 291.2h2.5v2.2h-2.5zM284.35 291.2h2.5v2.2h-2.5zM288.55 291.2h2.5v2.2h-2.5zM292.75 291.2h2.5v2.2h-2.5zM296.95 291.2h2.5v2.2h-2.5zM301.15 291.2h2.5v2.2h-2.5zM275.95 295.4h2.5v2.2h-2.5zM280.15 295.4h2.5v2.2h-2.5zM284.35 295.4h2.5v2.2h-2.5zM288.55 295.4h2.5v2.2h-2.5zM292.75 295.4h2.5v2.2h-2.5zM296.95 295.4h2.5v2.2h-2.5zM301.15 295.4h2.5v2.2h-2.5zM275.95 299.6h2.5v2.2h-2.5zM280.15 299.6h2.5v2.2h-2.5zM284.35 299.6h2.5v2.2h-2.5zM288.55 299.6h2.5v2.2h-2.5zM292.75 299.6h2.5v2.2h-2.5zM296.95 299.6h2.5v2.2h-2.5zM301.15 299.6h2.5v2.2h-2.5zM275.95 303.8h2.5v2.2h-2.5zM280.15 303.8h2.5v2.2h-2.5zM284.35 303.8h2.5v2.2h-2.5zM288.55 303.8h2.5v2.2h-2.5zM292.75 303.8h2.5v2.2h-2.5zM296.95 303.8h2.5v2.2h-2.5zM301.15 303.8h2.5v2.2h-2.5zM275.95 308h2.5v2.2h-2.5zM280.15 308h2.5v2.2h-2.5zM284.35 308h2.5v2.2h-2.5zM288.55 308h2.5v2.2h-2.5zM292.75 308h2.5v2.2h-2.5zM296.95 308h2.5v2.2h-2.5zM301.15 308h2.5v2.2h-2.5zM275.95 312.2h2.5v2.2h-2.5zM280.15 312.2h2.5v2.2h-2.5zM284.35 312.2h2.5v2.2h-2.5zM288.55 312.2h2.5v2.2h-2.5zM292.75 312.2h2.5v2.2h-2.5zM296.95 312.2h2.5v2.2h-2.5zM301.15 312.2h2.5v2.2h-2.5zM275.95 316.4h2.5v2.2h-2.5zM280.15 316.4h2.5v2.2h-2.5zM284.35 316.4h2.5v2.2h-2.5zM288.55 316.4h2.5v2.2h-2.5zM292.75 316.4h2.5v2.2h-2.5zM296.95 316.4h2.5v2.2h-2.5zM301.15 316.4h2.5v2.2h-2.5zM275.95 320.6h2.5v2.2h-2.5zM280.15 320.6h2.5v2.2h-2.5zM284.35 320.6h2.5v2.2h-2.5zM288.55 320.6h2.5v2.2h-2.5zM292.75 320.6h2.5v2.2h-2.5zM296.95 320.6h2.5v2.2h-2.5zM301.15 320.6h2.5v2.2h-2.5zM275.95 324.8h2.5v2.2h-2.5zM280.15 324.8h2.5v2.2h-2.5zM284.35 324.8h2.5v2.2h-2.5zM288.55 324.8h2.5v2.2h-2.5zM292.75 324.8h2.5v2.2h-2.5zM296.95 324.8h2.5v2.2h-2.5zM301.15 324.8h2.5v2.2h-2.5zM275.95 329h2.5v2.2h-2.5zM280.15 329h2.5v2.2h-2.5zM284.35 329h2.5v2.2h-2.5zM288.55 329h2.5v2.2h-2.5zM292.75 329h2.5v2.2h-2.5zM296.95 329h2.5v2.2h-2.5zM301.15 329h2.5v2.2h-2.5zM275.95 333.2h2.5v2.2h-2.5zM280.15 333.2h2.5v2.2h-2.5zM284.35 333.2h2.5v2.2h-2.5zM288.55 333.2h2.5v2.2h-2.5zM292.75 333.2h2.5v2.2h-2.5zM296.95 333.2h2.5v2.2h-2.5zM301.15 333.2h2.5v2.2h-2.5zM275.95 337.4h2.5v2.2h-2.5zM280.15 337.4h2.5v2.2h-2.5zM284.35 337.4h2.5v2.2h-2.5zM288.55 337.4h2.5v2.2h-2.5zM292.75 337.4h2.5v2.2h-2.5zM296.95 337.4h2.5v2.2h-2.5zM301.15 337.4h2.5v2.2h-2.5zM275.95 341.6h2.5v2.2h-2.5zM280.15 341.6h2.5v2.2h-2.5zM284.35 341.6h2.5v2.2h-2.5zM288.55 341.6h2.5v2.2h-2.5zM292.75 341.6h2.5v2.2h-2.5zM296.95 341.6h2.5v2.2h-2.5zM301.15 341.6h2.5v2.2h-2.5zM275.95 345.8h2.5v0.6h-2.5zM280.15 345.8h2.5v0.6h-2.5zM284.35 345.8h2.5v0.6h-2.5zM288.55 345.8h2.5v0.6h-2.5zM292.75 345.8h2.5v0.6h-2.5zM296.95 345.8h2.5v0.6h-2.5zM301.15 345.8h2.5v0.6h-2.5z"/>
<path d="M289.7 272.6V245.1M285.8 245.1h7.8" stroke="#0000ff" stroke-width="2" fill="none"/>
<text x="290.1" y="241.4" font-size="15" text-anchor="middle" textLength="14" lengthAdjust="spacingAndGlyphs">89</text>
<rect x="350.3" y="218.1" width="33.3" height="129.3" fill="#0000ff"/>
<path fill="#fff" d="M352.95 220.08h2.5v1.92h-2.5zM357.15 220.08h2.5v1.92h-2.5zM361.35 220.08h2.5v1.92h-2.5zM365.55 220.08h2.5v1.92h-2.5zM369.75 220.08h2.5v1.92h-2.5zM373.95 220.08h2.5v1.92h-2.5zM378.15 220.08h2.5v1.92h-2.5zM352.95 224h2.5v2.2h-2.5zM357.15 224h2.5v2.2h-2.5zM361.35 224h2.5v2.2h-2.5zM365.55 224h2.5v2.2h-2.5zM369.75 224h2.5v2.2h-2.5zM373.95 224h2.5v2.2h-2.5zM378.15 224h2.5v2.2h-2.5zM352.95 228.2h2.5v2.2h-2.5zM357.15 228.2h2.5v2.2h-2.5zM361.35 228.2h2.5v2.2h-2.5zM365.55 228.2h2.5v2.2h-2.5zM369.75 228.2h2.5v2.2h-2.5zM373.95 228.2h2.5v2.2h-2.5zM378.15 228.2h2.5v2.2h-2.5zM352.95 232.4h2.5v2.2h-2.5zM357.15 232.4h2.5v2.2h-2.5zM361.35 232.4h2.5v2.2h-2.5zM365.55 232.4h2.5v2.2h-2.5zM369.75 232.4h2.5v2.2h-2.5zM373.95 232.4h2.5v2.2h-2.5zM378.15 232.4h2.5v2.2h-2.5zM352.95 236.6h2.5v2.2h-2.5zM357.15 236.6h2.5v2.2h-2.5zM361.35 236.6h2.5v2.2h-2.5zM365.55 236.6h2.5v2.2h-2.5zM369.75 236.6h2.5v2.2h-2.5zM373.95 236.6h2.5v2.2h-2.5zM378.15 236.6h2.5v2.2h-2.5zM352.95 240.8h2.5v2.2h-2.5zM357.15 240.8h2.5v2.2h-2.5zM361.35 240.8h2.5v2.2h-2.5zM365.55 240.8h2.5v2.2h-2.5zM369.75 240.8h2.5v2.2h-2.5zM373.95 240.8h2.5v2.2h-2.5zM378.15 240.8h2.5v2.2h-2.5zM352.95 245h2.5v2.2h-2.5zM357.15 245h2.5v2.2h-2.5zM361.35 245h2.5v2.2h-2.5zM365.55 245h2.5v2.2h-2.5zM369.75 245h2.5v2.2h-2.5zM373.95 245h2.5v2.2h-2.5zM378.15 245h2.5v2.2h-2.5zM352.95 249.2h2.5v2.2h-2.5zM357.15 249.2h2.5v2.2h-2.5zM361.35 249.2h2.5v2.2h-2.5zM365.55 249.2h2.5v2.2h-2.5zM369.75 249.2h2.5v2.2h-2.5zM373.95 249.2h2.5v2.2h-2.5zM378.15 249.2h2.5v2.2h-2.5zM352.95 253.4h2.5v2.2h-2.5zM357.15 253.4h2.5v2.2h-2.5zM361.35 253.4h2.5v2.2h-2.5zM365.55 253.4h2.5v2.2h-2.5zM369.75 253.4h2.5v2.2h-2.5zM373.95 253.4h2.5v2.2h-2.5zM378.15 253.4h2.5v2.2h-2.5zM352.95 257.6h2.5v2.2h-2.5zM357.15 257.6h2.5v2.2h-2.5zM361.35 257.6h2.5v2.2h-2.5zM365.55 257.6h2.5v2.2h-2.5zM369.75 257.6h2.5v2.2h-2.5zM373.95 257.6h2.5v2.2h-2.5zM378.15 257.6h2.5v2.2h-2.5zM352.95 261.8h2.5v2.2h-2.5zM357.15 261.8h2.5v2.2h-2.5zM361.35 261.8h2.5v2.2h-2.5zM365.55 261.8h2.5v2.2h-2.5zM369.75 261.8h2.5v2.2h-2.5zM373.95 261.8h2.5v2.2h-2.5zM378.15 261.8h2.5v2.2h-2.5zM352.95 266h2.5v2.2h-2.5zM357.15 266h2.5v2.2h-2.5zM361.35 266h2.5v2.2h-2.5zM365.55 266h2.5v2.2h-2.5zM369.75 266h2.5v2.2h-2.5zM373.95 266h2.5v2.2h-2.5zM378.15 266h2.5v2.2h-2.5zM352.95 270.2h2.5v2.2h-2.5zM357.15 270.2h2.5v2.2h-2.5zM361.35 270.2h2.5v2.2h-2.5zM365.55 270.2h2.5v2.2h-2.5zM369.75 270.2h2.5v2.2h-2.5zM373.95 270.2h2.5v2.2h-2.5zM378.15 270.2h2.5v2.2h-2.5zM352.95 274.4h2.5v2.2h-2.5zM357.15 274.4h2.5v2.2h-2.5zM361.35 274.4h2.5v2.2h-2.5zM365.55 274.4h2.5v2.2h-2.5zM369.75 274.4h2.5v2.2h-2.5zM373.95 274.4h2.5v2.2h-2.5zM378.15 274.4h2.5v2.2h-2.5zM352.95 278.6h2.5v2.2h-2.5zM357.15 278.6h2.5v2.2h-2.5zM361.35 278.6h2.5v2.2h-2.5zM365.55 278.6h2.5v2.2h-2.5zM369.75 278.6h2.5v2.2h-2.5zM373.95 278.6h2.5v2.2h-2.5zM378.15 278.6h2.5v2.2h-2.5zM352.95 282.8h2.5v2.2h-2.5zM357.15 282.8h2.5v2.2h-2.5zM361.35 282.8h2.5v2.2h-2.5zM365.55 282.8h2.5v2.2h-2.5zM369.75 282.8h2.5v2.2h-2.5zM373.95 282.8h2.5v2.2h-2.5zM378.15 282.8h2.5v2.2h-2.5zM352.95 287h2.5v2.2h-2.5zM357.15 287h2.5v2.2h-2.5zM361.35 287h2.5v2.2h-2.5zM365.55 287h2.5v2.2h-2.5zM369.75 287h2.5v2.2h-2.5zM373.95 287h2.5v2.2h-2.5zM378.15 287h2.5v2.2h-2.5zM352.95 291.2h2.5v2.2h-2.5zM357.15 291.2h2.5v2.2h-2.5zM361.35 291.2h2.5v2.2h-2.5zM365.55 291.2h2.5v2.2h-2.5zM369.75 291.2h2.5v2.2h-2.5zM373.95 291.2h2.5v2.2h-2.5zM378.15 291.2h2.5v2.2h-2.5zM352.95 295.4h2.5v2.2h-2.5zM357.15 295.4h2.5v2.2h-2.5zM361.35 295.4h2.5v2.2h-2.5zM365.55 295.4h2.5v2.2h-2.5zM369.75 295.4h2.5v2.2h-2.5zM373.95 295.4h2.5v2.2h-2.5zM378.15 295.4h2.5v2.2h-2.5zM352.95 299.6h2.5v2.2h-2.5zM357.15 299.6h2.5v2.2h-2.5zM361.35 299.6h2.5v2.2h-2.5zM365.55 299.6h2.5v2.2h-2.5zM369.75 299.6h2.5v2.2h-2.5zM373.95 299.6h2.5v2.2h-2.5zM378.15 299.6h2.5v2.2h-2.5zM352.95 303.8h2.5v2.2h-2.5zM357.15 303.8h2.5v2.2h-2.5zM361.35 303.8h2.5v2.2h-2.5zM365.55 303.8h2.5v2.2h-2.5zM369.75 303.8h2.5v2.2h-2.5zM373.95 303.8h2.5v2.2h-2.5zM378.15 303.8h2.5v2.2h-2.5zM352.95 308h2.5v2.2h-2.5zM357.15 308h2.5v2.2h-2.5zM361.35 308h2.5v2.2h-2.5zM365.55 308h2.5v2.2h-2.5zM369.75 308h2.5v2.2h-2.5zM373.95 308h2.5v2.2h-2.5zM378.15 308h2.5v2.2h-2.5zM352.95 312.2h2.5v2.2h-2.5zM357.15 312.2h2.5v2.2h-2.5zM361.35 312.2h2.5v2.2h-2.5zM365.55 312.2h2.5v2.2h-2.5zM369.75 312.2h2.5v2.2h-2.5zM373.95 312.2h2.5v2.2h-2.5zM378.15 312.2h2.5v2.2h-2.5zM352.95 316.4h2.5v2.2h-2.5zM357.15 316.4h2.5v2.2h-2.5zM361.35 316.4h2.5v2.2h-2.5zM365.55 316.4h2.5v2.2h-2.5zM369.75 316.4h2.5v2.2h-2.5zM373.95 316.4h2.5v2.2h-2.5zM378.15 316.4h2.5v2.2h-2.5zM352.95 320.6h2.5v2.2h-2.5zM357.15 320.6h2.5v2.2h-2.5zM361.35 320.6h2.5v2.2h-2.5zM365.55 320.6h2.5v2.2h-2.5zM369.75 320.6h2.5v2.2h-2.5zM373.95 320.6h2.5v2.2h-2.5zM378.15 320.6h2.5v2.2h-2.5zM352.95 324.8h2.5v2.2h-2.5zM357.15 324.8h2.5v2.2h-2.5zM361.35 324.8h2.5v2.2h-2.5zM365.55 324.8h2.5v2.2h-2.5zM369.75 324.8h2.5v2.2h-2.5zM373.95 324.8h2.5v2.2h-2.5zM378.15 324.8h2.5v2.2h-2.5zM352.95 329h2.5v2.2h-2.5zM357.15 329h2.5v2.2h-2.5zM361.35 329h2.5v2.2h-2.5zM365.55 329h2.5v2.2h-2.5zM369.75 329h2.5v2.2h-2.5zM373.95 329h2.5v2.2h-2.5zM378.15 329h2.5v2.2h-2.5zM352.95 333.2h2.5v2.2h-2.5zM357.15 333.2h2.5v2.2h-2.5zM361.35 333.2h2.5v2.2h-2.5zM365.55 333.2h2.5v2.2h-2.5zM369.75 333.2h2.5v2.2h-2.5zM373.95 333.2h2.5v2.2h-2.5zM378.15 333.2h2.5v2.2h-2.5zM352.95 337.4h2.5v2.2h-2.5zM357.15 337.4h2.5v2.2h-2.5zM361.35 337.4h2.5v2.2h-2.5zM365.55 337.4h2.5v2.2h-2.5zM369.75 337.4h2.5v2.2h-2.5zM373.95 337.4h2.5v2.2h-2.5zM378.15 337.4h2.5v2.2h-2.5zM352.95 341.6h2.5v2.2h-2.5zM357.15 341.6h2.5v2.2h-2.5zM361.35 341.6h2.5v2.2h-2.5zM365.55 341.6h2.5v2.2h-2.5zM369.75 341.6h2.5v2.2h-2.5zM373.95 341.6h2.5v2.2h-2.5zM378.15 341.6h2.5v2.2h-2.5zM352.95 345.8h2.5v0.6h-2.5zM357.15 345.8h2.5v0.6h-2.5zM361.35 345.8h2.5v0.6h-2.5zM365.55 345.8h2.5v0.6h-2.5zM369.75 345.8h2.5v0.6h-2.5zM373.95 345.8h2.5v0.6h-2.5zM378.15 345.8h2.5v0.6h-2.5z"/>
<path d="M366.7 238.1V200.1M362.8 200.1h7.8" stroke="#0000ff" stroke-width="2" fill="none"/>
<text x="367.2" y="196.5" font-size="15" text-anchor="middle" textLength="21" lengthAdjust="spacingAndGlyphs">129</text>
<rect x="427.3" y="188.6" width="33.3" height="158.8" fill="#0000ff"/>
<path fill="#fff" d="M429.95 190.64h2.5v1.96h-2.5zM434.15 190.64h2.5v1.96h-2.5zM438.35 190.64h2.5v1.96h-2.5zM442.55 190.64h2.5v1.96h-2.5zM446.75 190.64h2.5v1.96h-2.5zM450.95 190.64h2.5v1.96h-2.5zM455.15 190.64h2.5v1.96h-2.5zM429.95 194.6h2.5v2.2h-2.5zM434.15 194.6h2.5v2.2h-2.5zM438.35 194.6h2.5v2.2h-2.5zM442.55 194.6h2.5v2.2h-2.5zM446.75 194.6h2.5v2.2h-2.5zM450.95 194.6h2.5v2.2h-2.5zM455.15 194.6h2.5v2.2h-2.5zM429.95 198.8h2.5v2.2h-2.5zM434.15 198.8h2.5v2.2h-2.5zM438.35 198.8h2.5v2.2h-2.5zM442.55 198.8h2.5v2.2h-2.5zM446.75 198.8h2.5v2.2h-2.5zM450.95 198.8h2.5v2.2h-2.5zM455.15 198.8h2.5v2.2h-2.5zM429.95 203h2.5v2.2h-2.5zM434.15 203h2.5v2.2h-2.5zM438.35 203h2.5v2.2h-2.5zM442.55 203h2.5v2.2h-2.5zM446.75 203h2.5v2.2h-2.5zM450.95 203h2.5v2.2h-2.5zM455.15 203h2.5v2.2h-2.5zM429.95 207.2h2.5v2.2h-2.5zM434.15 207.2h2.5v2.2h-2.5zM438.35 207.2h2.5v2.2h-2.5zM442.55 207.2h2.5v2.2h-2.5zM446.75 207.2h2.5v2.2h-2.5zM450.95 207.2h2.5v2.2h-2.5zM455.15 207.2h2.5v2.2h-2.5zM429.95 211.4h2.5v2.2h-2.5zM434.15 211.4h2.5v2.2h-2.5zM438.35 211.4h2.5v2.2h-2.5zM442.55 211.4h2.5v2.2h-2.5zM446.75 211.4h2.5v2.2h-2.5zM450.95 211.4h2.5v2.2h-2.5zM455.15 211.4h2.5v2.2h-2.5zM429.95 215.6h2.5v2.2h-2.5zM434.15 215.6h2.5v2.2h-2.5zM438.35 215.6h2.5v2.2h-2.5zM442.55 215.6h2.5v2.2h-2.5zM446.75 215.6h2.5v2.2h-2.5zM450.95 215.6h2.5v2.2h-2.5zM455.15 215.6h2.5v2.2h-2.5zM429.95 219.8h2.5v2.2h-2.5zM434.15 219.8h2.5v2.2h-2.5zM438.35 219.8h2.5v2.2h-2.5zM442.55 219.8h2.5v2.2h-2.5zM446.75 219.8h2.5v2.2h-2.5zM450.95 219.8h2.5v2.2h-2.5zM455.15 219.8h2.5v2.2h-2.5zM429.95 224h2.5v2.2h-2.5zM434.15 224h2.5v2.2h-2.5zM438.35 224h2.5v2.2h-2.5zM442.55 224h2.5v2.2h-2.5zM446.75 224h2.5v2.2h-2.5zM450.95 224h2.5v2.2h-2.5zM455.15 224h2.5v2.2h-2.5zM429.95 228.2h2.5v2.2h-2.5zM434.15 228.2h2.5v2.2h-2.5zM438.35 228.2h2.5v2.2h-2.5zM442.55 228.2h2.5v2.2h-2.5zM446.75 228.2h2.5v2.2h-2.5zM450.95 228.2h2.5v2.2h-2.5zM455.15 228.2h2.5v2.2h-2.5zM429.95 232.4h2.5v2.2h-2.5zM434.15 232.4h2.5v2.2h-2.5zM438.35 232.4h2.5v2.2h-2.5zM442.55 232.4h2.5v2.2h-2.5zM446.75 232.4h2.5v2.2h-2.5zM450.95 232.4h2.5v2.2h-2.5zM455.15 232.4h2.5v2.2h-2.5zM429.95 236.6h2.5v2.2h-2.5zM434.15 236.6h2.5v2.2h-2.5zM438.35 236.6h2.5v2.2h-2.5zM442.55 236.6h2.5v2.2h-2.5zM446.75 236.6h2.5v2.2h-2.5zM450.95 236.6h2.5v2.2h-2.5zM455.15 236.6h2.5v2.2h-2.5zM429.95 240.8h2.5v2.2h-2.5zM434.15 240.8h2.5v2.2h-2.5zM438.35 240.8h2.5v2.2h-2.5zM442.55 240.8h2.5v2.2h-2.5zM446.75 240.8h2.5v2.2h-2.5zM450.95 240.8h2.5v2.2h-2.5zM455.15 240.8h2.5v2.2h-2.5zM429.95 245h2.5v2.2h-2.5zM434.15 245h2.5v2.2h-2.5zM438.35 245h2.5v2.2h-2.5zM442.55 245h2.5v2.2h-2.5zM446.75 245h2.5v2.2h-2.5zM450.95 245h2.5v2.2h-2.5zM455.15 245h2.5v2.2h-2.5zM429.95 249.2h2.5v2.2h-2.5zM434.15 249.2h2.5v2.2h-2.5zM438.35 249.2h2.5v2.2h-2.5zM442.55 249.2h2.5v2.2h-2.5zM446.75 249.2h2.5v2.2h-2.5zM450.95 249.2h2.5v2.2h-2.5zM455.15 249.2h2.5v2.2h-2.5zM429.95 253.4h2.5v2.2h-2.5zM434.15 253.4h2.5v2.2h-2.5zM438.35 253.4h2.5v2.2h-2.5zM442.55 253.4h2.5v2.2h-2.5zM446.75 253.4h2.5v2.2h-2.5zM450.95 253.4h2.5v2.2h-2.5zM455.15 253.4h2.5v2.2h-2.5zM429.95 257.6h2.5v2.2h-2.5zM434.15 257.6h2.5v2.2h-2.5zM438.35 257.6h2.5v2.2h-2.5zM442.55 257.6h2.5v2.2h-2.5zM446.75 257.6h2.5v2.2h-2.5zM450.95 257.6h2.5v2.2h-2.5zM455.15 257.6h2.5v2.2h-2.5zM429.95 261.8h2.5v2.2h-2.5zM434.15 261.8h2.5v2.2h-2.5zM438.35 261.8h2.5v2.2h-2.5zM442.55 261.8h2.5v2.2h-2.5zM446.75 261.8h2.5v2.2h-2.5zM450.95 261.8h2.5v2.2h-2.5zM455.15 261.8h2.5v2.2h-2.5zM429.95 266h2.5v2.2h-2.5zM434.15 266h2.5v2.2h-2.5zM438.35 266h2.5v2.2h-2.5zM442.55 266h2.5v2.2h-2.5zM446.75 266h2.5v2.2h-2.5zM450.95 266h2.5v2.2h-2.5zM455.15 266h2.5v2.2h-2.5zM429.95 270.2h2.5v2.2h-2.5zM434.15 270.2h2.5v2.2h-2.5zM438.35 270.2h2.5v2.2h-2.5zM442.55 270.2h2.5v2.2h-2.5zM446.75 270.2h2.5v2.2h-2.5zM450.95 270.2h2.5v2.2h-2.5zM455.15 270.2h2.5v2.2h-2.5zM429.95 274.4h2.5v2.2h-2.5zM434.15 274.4h2.5v2.2h-2.5zM438.35 274.4h2.5v2.2h-2.5zM442.55 274.4h2.5v2.2h-2.5zM446.75 274.4h2.5v2.2h-2.5zM450.95 274.4h2.5v2.2h-2.5zM455.15 274.4h2.5v2.2h-2.5zM429.95 278.6h2.5v2.2h-2.5zM434.15 278.6h2.5v2.2h-2.5zM438.35 278.6h2.5v2.2h-2.5zM442.55 278.6h2.5v2.2h-2.5zM446.75 278.6h2.5v2.2h-2.5zM450.95 278.6h2.5v2.2h-2.5zM455.15 278.6h2.5v2.2h-2.5zM429.95 282.8h2.5v2.2h-2.5zM434.15 282.8h2.5v2.2h-2.5zM438.35 282.8h2.5v2.2h-2.5zM442.55 282.8h2.5v2.2h-2.5zM446.75 282.8h2.5v2.2h-2.5zM450.95 282.8h2.5v2.2h-2.5zM455.15 282.8h2.5v2.2h-2.5zM429.95 287h2.5v2.2h-2.5zM434.15 287h2.5v2.2h-2.5zM438.35 287h2.5v2.2h-2.5zM442.55 287h2.5v2.2h-2.5zM446.75 287h2.5v2.2h-2.5zM450.95 287h2.5v2.2h-2.5zM455.15 287h2.5v2.2h-2.5zM429.95 291.2h2.5v2.2h-2.5zM434.15 291.2h2.5v2.2h-2.5zM438.35 291.2h2.5v2.2h-2.5zM442.55 291.2h2.5v2.2h-2.5zM446.75 291.2h2.5v2.2h-2.5zM450.95 291.2h2.5v2.2h-2.5zM455.15 291.2h2.5v2.2h-2.5zM429.95 295.4h2.5v2.2h-2.5zM434.15 295.4h2.5v2.2h-2.5zM438.35 295.4h2.5v2.2h-2.5zM442.55 295.4h2.5v2.2h-2.5zM446.75 295.4h2.5v2.2h-2.5zM450.95 295.4h2.5v2.2h-2.5zM455.15 295.4h2.5v2.2h-2.5zM429.95 299.6h2.5v2.2h-2.5zM434.15 299.6h2.5v2.2h-2.5zM438.35 299.6h2.5v2.2h-2.5zM442.55 299.6h2.5v2.2h-2.5zM446.75 299.6h2.5v2.2h-2.5zM450.95 299.6h2.5v2.2h-2.5zM455.15 299.6h2.5v2.2h-2.5zM429.95 303.8h2.5v2.2h-2.5zM434.15 303.8h2.5v2.2h-2.5zM438.35 303.8h2.5v2.2h-2.5zM442.55 303.8h2.5v2.2h-2.5zM446.75 303.8h2.5v2.2h-2.5zM450.95 303.8h2.5v2.2h-2.5zM455.15 303.8h2.5v2.2h-2.5zM429.95 308h2.5v2.2h-2.5zM434.15 308h2.5v2.2h-2.5zM438.35 308h2.5v2.2h-2.5zM442.55 308h2.5v2.2h-2.5zM446.75 308h2.5v2.2h-2.5zM450.95 308h2.5v2.2h-2.5zM455.15 308h2.5v2.2h-2.5zM429.95 312.2h2.5v2.2h-2.5zM434.15 312.2h2.5v2.2h-2.5zM438.35 312.2h2.5v2.2h-2.5zM442.55 312.2h2.5v2.2h-2.5zM446.75 312.2h2.5v2.2h-2.5zM450.95 312.2h2.5v2.2h-2.5zM455.15 312.2h2.5v2.2h-2.5zM429.95 316.4h2.5v2.2h-2.5zM434.15 316.4h2.5v2.2h-2.5zM438.35 316.4h2.5v2.2h-2.5zM442.55 316.4h2.5v2.2h-2.5zM446.75 316.4h2.5v2.2h-2.5zM450.95 316.4h2.5v2.2h-2.5zM455.15 316.4h2.5v2.2h-2.5zM429.95 320.6h2.5v2.2h-2.5zM434.15 320.6h2.5v2.2h-2.5zM438.35 320.6h2.5v2.2h-2.5zM442.55 320.6h2.5v2.2h-2.5zM446.75 320.6h2.5v2.2h-2.5zM450.95 320.6h2.5v2.2h-2.5zM455.15 320.6h2.5v2.2h-2.5zM429.95 324.8h2.5v2.2h-2.5zM434.15 324.8h2.5v2.2h-2.5zM438.35 324.8h2.5v2.2h-2.5zM442.55 324.8h2.5v2.2h-2.5zM446.75 324.8h2.5v2.2h-2.5zM450.95 324.8h2.5v2.2h-2.5zM455.15 324.8h2.5v2.2h-2.5zM429.95 329h2.5v2.2h-2.5zM434.15 329h2.5v2.2h-2.5zM438.35 329h2.5v2.2h-2.5zM442.55 329h2.5v2.2h-2.5zM446.75 329h2.5v2.2h-2.5zM450.95 329h2.5v2.2h-2.5zM455.15 329h2.5v2.2h-2.5zM429.95 333.2h2.5v2.2h-2.5zM434.15 333.2h2.5v2.2h-2.5zM438.35 333.2h2.5v2.2h-2.5zM442.55 333.2h2.5v2.2h-2.5zM446.75 333.2h2.5v2.2h-2.5zM450.95 333.2h2.5v2.2h-2.5zM455.15 333.2h2.5v2.2h-2.5zM429.95 337.4h2.5v2.2h-2.5zM434.15 337.4h2.5v2.2h-2.5zM438.35 337.4h2.5v2.2h-2.5zM442.55 337.4h2.5v2.2h-2.5zM446.75 337.4h2.5v2.2h-2.5zM450.95 337.4h2.5v2.2h-2.5zM455.15 337.4h2.5v2.2h-2.5zM429.95 341.6h2.5v2.2h-2.5zM434.15 341.6h2.5v2.2h-2.5zM438.35 341.6h2.5v2.2h-2.5zM442.55 341.6h2.5v2.2h-2.5zM446.75 341.6h2.5v2.2h-2.5zM450.95 341.6h2.5v2.2h-2.5zM455.15 341.6h2.5v2.2h-2.5zM429.95 345.8h2.5v0.6h-2.5zM434.15 345.8h2.5v0.6h-2.5zM438.35 345.8h2.5v0.6h-2.5zM442.55 345.8h2.5v0.6h-2.5zM446.75 345.8h2.5v0.6h-2.5zM450.95 345.8h2.5v0.6h-2.5zM455.15 345.8h2.5v0.6h-2.5z"/>
<path d="M443.7 206.3V174.2M439.8 174.2h7.8" stroke="#0000ff" stroke-width="2" fill="none"/>
<text x="444.5" y="170.6" font-size="15" text-anchor="middle" textLength="21" lengthAdjust="spacingAndGlyphs">158</text>
<g stroke="#000" stroke-width="2.1" fill="none">
<rect x="82.0" y="49.0" width="385.6" height="298.4"/>
<path d="M82.0 347.4h-7M467.6 347.4h6M82.0 297.7h-7M467.6 297.7h6M82.0 247.9h-7M467.6 247.9h6M82.0 198.2h-7M467.6 198.2h6M82.0 148.5h-7M467.6 148.5h6M82.0 98.7h-7M467.6 98.7h6M82.0 49.0h-7M467.6 49.0h6M120.5 347.4v5.5M197.5 347.4v5.5M274.5 347.4v5.5M351.5 347.4v5.5M428.5 347.4v5.5"/>
</g>
<text x="73.3" y="354.8" font-size="24.3" text-anchor="end">0</text>
<text x="475.8" y="354.8" font-size="24.3">0</text>
<text x="73.3" y="305.1" font-size="24.3" text-anchor="end">50</text>
<text x="475.8" y="305.1" font-size="24.3">50</text>
<text x="73.3" y="255.3" font-size="24.3" text-anchor="end">100</text>
<text x="475.8" y="255.3" font-size="24.3">100</text>
<text x="73.3" y="205.6" font-size="24.3" text-anchor="end">150</text>
<text x="475.8" y="205.6" font-size="24.3">150</text>
<text x="73.3" y="155.9" font-size="24.3" text-anchor="end">200</text>
<text x="475.8" y="155.9" font-size="24.3">200</text>
<text x="73.3" y="106.1" font-size="24.3" text-anchor="end">250</text>
<text x="475.8" y="106.1" font-size="24.3">250</text>
<text x="73.3" y="56.4" font-size="24.3" text-anchor="end">300</text>
<text x="475.8" y="56.4" font-size="24.3">300</text>
<text x="120.9" y="375.7" font-size="24.3" text-anchor="middle">0</text>
<text x="197.9" y="375.7" font-size="24.3" text-anchor="middle">4</text>
<text x="274.9" y="375.7" font-size="24.3" text-anchor="middle">6</text>
<text x="351.9" y="375.7" font-size="24.3" text-anchor="middle">8</text>
<text x="428.9" y="375.7" font-size="24.3" text-anchor="middle">10</text>
<text x="274.6" y="412.8" font-size="24.3" text-anchor="middle" textLength="211" lengthAdjust="spacingAndGlyphs">Nano clay content / %</text>
<text transform="translate(29.9 199.4) rotate(-90)" font-size="24.3" text-anchor="middle" textLength="381.6" lengthAdjust="spacingAndGlyphs">Unconfined compressive strength / kPa</text>
<text transform="translate(535.6 199.2) rotate(-90)" font-size="24.3" text-anchor="middle" textLength="225" lengthAdjust="spacingAndGlyphs">Residual strength / kPa</text>
<rect x="98.8" y="58.1" width="42" height="23.2" fill="#ff2a2a"/>
<rect x="99.8" y="59.1" width="40" height="21.2" fill="#ff0000"/>
<path fill="#fff" d="M103.46 60.4h1.8v1.8h-1.8zM109.38 60.4h1.8v1.8h-1.8zM115.3 60.4h1.8v1.8h-1.8zM121.22 60.4h1.8v1.8h-1.8zM127.14 60.4h1.8v1.8h-1.8zM133.06 60.4h1.8v1.8h-1.8zM100.5 63.36h1.8v1.8h-1.8zM106.42 63.36h1.8v1.8h-1.8zM112.34 63.36h1.8v1.8h-1.8zM118.26 63.36h1.8v1.8h-1.8zM124.18 63.36h1.8v1.8h-1.8zM130.1 63.36h1.8v1.8h-1.8zM136.02 63.36h1.8v1.8h-1.8zM103.46 66.32h1.8v1.8h-1.8zM109.38 66.32h1.8v1.8h-1.8zM115.3 66.32h1.8v1.8h-1.8zM121.22 66.32h1.8v1.8h-1.8zM127.14 66.32h1.8v1.8h-1.8zM133.06 66.32h1.8v1.8h-1.8zM100.5 69.28h1.8v1.8h-1.8zM106.42 69.28h1.8v1.8h-1.8zM112.34 69.28h1.8v1.8h-1.8zM118.26 69.28h1.8v1.8h-1.8zM124.18 69.28h1.8v1.8h-1.8zM130.1 69.28h1.8v1.8h-1.8zM136.02 69.28h1.8v1.8h-1.8zM103.46 72.24h1.8v1.8h-1.8zM109.38 72.24h1.8v1.8h-1.8zM115.3 72.24h1.8v1.8h-1.8zM121.22 72.24h1.8v1.8h-1.8zM127.14 72.24h1.8v1.8h-1.8zM133.06 72.24h1.8v1.8h-1.8zM100.5 75.2h1.8v1.8h-1.8zM106.42 75.2h1.8v1.8h-1.8zM112.34 75.2h1.8v1.8h-1.8zM118.26 75.2h1.8v1.8h-1.8zM124.18 75.2h1.8v1.8h-1.8zM130.1 75.2h1.8v1.8h-1.8zM136.02 75.2h1.8v1.8h-1.8zM103.46 78.16h1.8v1.8h-1.8zM109.38 78.16h1.8v1.8h-1.8zM115.3 78.16h1.8v1.8h-1.8zM121.22 78.16h1.8v1.8h-1.8zM127.14 78.16h1.8v1.8h-1.8zM133.06 78.16h1.8v1.8h-1.8z"/>
<rect x="98.8" y="82.3" width="42" height="22.2" fill="#0000ff"/>
<path fill="#fff" d="M101.95 85.7h2.5v2.2h-2.5zM106.15 85.7h2.5v2.2h-2.5zM110.35 85.7h2.5v2.2h-2.5zM114.55 85.7h2.5v2.2h-2.5zM118.75 85.7h2.5v2.2h-2.5zM122.95 85.7h2.5v2.2h-2.5zM127.15 85.7h2.5v2.2h-2.5zM131.35 85.7h2.5v2.2h-2.5zM135.55 85.7h2.5v2.2h-2.5zM101.95 89.7h2.5v2.2h-2.5zM106.15 89.7h2.5v2.2h-2.5zM110.35 89.7h2.5v2.2h-2.5zM114.55 89.7h2.5v2.2h-2.5zM118.75 89.7h2.5v2.2h-2.5zM122.95 89.7h2.5v2.2h-2.5zM127.15 89.7h2.5v2.2h-2.5zM131.35 89.7h2.5v2.2h-2.5zM135.55 89.7h2.5v2.2h-2.5zM101.95 93.7h2.5v2.2h-2.5zM106.15 93.7h2.5v2.2h-2.5zM110.35 93.7h2.5v2.2h-2.5zM114.55 93.7h2.5v2.2h-2.5zM118.75 93.7h2.5v2.2h-2.5zM122.95 93.7h2.5v2.2h-2.5zM127.15 93.7h2.5v2.2h-2.5zM131.35 93.7h2.5v2.2h-2.5zM135.55 93.7h2.5v2.2h-2.5zM101.95 97.7h2.5v2.2h-2.5zM106.15 97.7h2.5v2.2h-2.5zM110.35 97.7h2.5v2.2h-2.5zM114.55 97.7h2.5v2.2h-2.5zM118.75 97.7h2.5v2.2h-2.5zM122.95 97.7h2.5v2.2h-2.5zM127.15 97.7h2.5v2.2h-2.5zM131.35 97.7h2.5v2.2h-2.5zM135.55 97.7h2.5v2.2h-2.5zM101.95 101.7h2.5v1.1h-2.5zM106.15 101.7h2.5v1.1h-2.5zM110.35 101.7h2.5v1.1h-2.5zM114.55 101.7h2.5v1.1h-2.5zM118.75 101.7h2.5v1.1h-2.5zM122.95 101.7h2.5v1.1h-2.5zM127.15 101.7h2.5v1.1h-2.5zM131.35 101.7h2.5v1.1h-2.5zM135.55 101.7h2.5v1.1h-2.5z"/>
<text x="146.5" y="76.9" font-size="18.8" textLength="247" lengthAdjust="spacingAndGlyphs">Unconfined compressive strength</text>
<text x="146.5" y="99.1" font-size="18.8" textLength="127.6" lengthAdjust="spacingAndGlyphs">Residual strength</text>
</svg></body></html>
